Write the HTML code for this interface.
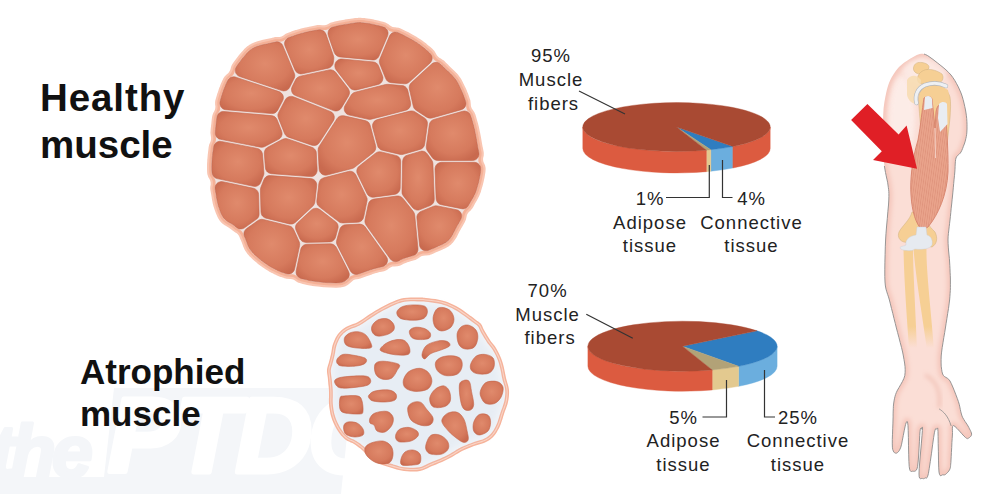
<!DOCTYPE html>
<html><head><meta charset="utf-8"><style>
html,body{margin:0;padding:0;background:#fff;width:1000px;height:500px;overflow:hidden;}
svg{display:block;position:absolute;left:0;top:0;}
</style></head><body>
<svg width="1000" height="500" viewBox="0 0 1000 500"><defs><radialGradient id="cg" cx="50%" cy="45%" r="60%"><stop offset="0" stop-color="#e08a6c"/><stop offset="0.7" stop-color="#d67a5d"/><stop offset="1" stop-color="#c96a4f"/></radialGradient><filter id="blur3" x="-10%" y="-10%" width="120%" height="120%"><feGaussianBlur stdDeviation="3"/></filter><filter id="blur2" x="-20%" y="-20%" width="140%" height="140%"><feGaussianBlur stdDeviation="2.2"/></filter><clipPath id="armclip"><path d="M924.0,54.0 L925.6,54.6 L927.3,55.4 L929.1,56.6 L931.0,58.0 L933.0,59.4 L935.0,61.0 L937.3,62.8 L940.1,65.0 L943.1,67.4 L946.0,69.9 L948.7,72.5 L951.0,75.0 L952.9,77.6 L954.8,80.5 L956.6,83.7 L958.3,86.9 L959.7,90.0 L961.0,93.0 L962.1,96.1 L963.1,99.5 L964.0,103.1 L964.8,106.7 L965.5,110.0 L966.0,113.0 L966.4,115.8 L966.7,118.6 L966.9,121.5 L967.0,124.3 L967.0,126.8 L967.0,129.0 L966.9,131.0 L966.8,132.9 L966.6,134.7 L966.3,136.5 L965.9,138.3 L965.5,140.0 L965.0,141.9 L964.3,144.0 L963.4,146.3 L962.6,148.5 L961.8,150.4 L961.0,152.0 L960.2,153.2 L959.3,154.1 L958.3,154.9 L957.4,155.7 L956.6,156.7 L956.0,158.0 L955.6,159.7 L955.4,161.7 L955.2,164.0 L955.1,166.5 L955.0,169.2 L954.8,172.0 L954.5,175.3 L954.1,179.2 L953.7,183.4 L953.3,187.8 L952.9,192.1 L952.5,196.0 L952.1,199.8 L951.7,204.0 L951.2,208.2 L950.8,212.4 L950.4,216.4 L950.0,220.0 L949.6,223.3 L949.2,226.7 L948.8,230.1 L948.4,233.5 L948.1,236.8 L948.0,240.0 L948.1,243.4 L948.3,247.1 L948.6,251.0 L949.0,254.9 L949.4,258.6 L949.6,262.0 L949.8,265.3 L950.0,268.7 L950.1,272.2 L950.3,275.7 L950.4,279.0 L950.4,282.0 L950.4,284.8 L950.4,287.7 L950.3,290.6 L950.1,293.5 L949.9,296.7 L949.6,300.0 L949.1,303.9 L948.5,308.5 L947.7,313.4 L946.9,318.5 L946.1,323.5 L945.4,328.0 L944.7,332.5 L943.8,337.5 L943.0,342.6 L942.2,347.5 L941.6,352.1 L941.2,356.0 L941.1,359.5 L941.1,362.9 L941.2,366.2 L941.6,369.2 L942.0,371.8 L942.6,374.0 L943.4,375.5 L944.6,376.6 L945.9,377.4 L947.3,378.2 L948.7,379.3 L950.0,381.0 L951.3,383.6 L952.8,387.0 L954.4,390.9 L955.9,394.8 L957.3,398.5 L958.4,401.6 L959.2,404.2 L959.8,406.9 L960.3,409.4 L960.8,411.8 L961.4,414.0 L962.0,416.0 L962.8,417.8 L963.9,419.6 L965.0,421.4 L966.1,423.0 L967.2,424.6 L968.0,426.0 L968.8,427.4 L969.5,428.9 L970.3,430.3 L970.9,431.7 L971.4,433.0 L971.6,434.0 L971.5,434.9 L971.2,435.7 L970.7,436.4 L970.1,437.0 L969.5,437.5 L969.0,437.8 L968.6,438.1 L968.2,438.4 L967.8,438.6 L967.3,438.6 L966.6,438.3 L965.6,437.6 L964.0,436.1 L961.9,433.8 L959.5,431.1 L957.1,428.5 L955.0,426.5 L953.6,425.6 L952.9,425.8 L952.5,426.7 L952.4,428.2 L952.4,430.2 L952.5,432.5 L952.4,435.0 L952.2,438.3 L951.9,442.6 L951.7,447.5 L951.4,452.4 L951.2,456.7 L951.0,460.0 L950.9,462.3 L950.7,464.1 L950.6,465.5 L950.5,466.7 L950.3,467.8 L950.0,468.8 L949.5,469.9 L948.9,470.9 L948.1,471.9 L947.4,472.7 L946.6,473.4 L946.0,474.0 L945.5,474.4 L944.9,474.7 L944.4,474.9 L943.9,474.9 L943.3,474.9 L942.8,474.8 L942.2,474.9 L941.5,475.4 L940.8,475.7 L940.1,475.5 L939.5,474.4 L939.0,472.0 L938.7,467.2 L938.5,460.1 L938.4,451.8 L938.2,443.5 L938.1,436.4 L938.0,431.6 L937.8,429.2 L937.7,428.1 L937.5,427.9 L937.3,428.3 L937.1,428.9 L936.8,429.2 L936.5,429.1 L936.2,428.7 L935.9,428.6 L935.5,428.9 L935.0,430.2 L934.4,432.8 L933.6,437.7 L932.6,444.8 L931.5,453.2 L930.3,461.5 L929.2,468.7 L928.4,473.6 L927.7,476.2 L927.1,477.6 L926.5,478.1 L926.0,478.0 L925.5,477.9 L925.0,478.0 L924.6,478.3 L924.1,478.6 L923.7,478.7 L923.3,478.7 L922.8,478.6 L922.4,478.4 L921.8,478.4 L921.1,478.6 L920.4,478.7 L919.7,478.2 L919.2,476.8 L919.0,474.0 L919.2,468.7 L919.8,461.0 L920.6,452.0 L921.4,443.1 L922.0,435.5 L922.4,430.4 L922.5,428.0 L922.3,427.1 L922.1,427.2 L921.7,427.9 L921.4,428.8 L921.2,429.2 L921.0,429.1 L920.8,428.7 L920.7,428.4 L920.5,428.5 L920.3,429.5 L920.0,431.6 L919.7,435.7 L919.4,441.8 L919.0,448.9 L918.6,456.0 L918.1,462.1 L917.6,466.4 L917.0,468.8 L916.2,470.3 L915.3,471.0 L914.4,471.3 L913.5,471.3 L912.8,471.2 L912.1,471.3 L911.5,471.5 L910.8,471.4 L910.2,470.7 L909.6,469.1 L909.2,466.4 L908.9,461.4 L908.7,454.2 L908.5,445.8 L908.4,437.5 L908.2,430.3 L908.0,425.6 L907.7,423.1 L907.4,421.8 L907.0,421.4 L906.6,421.9 L906.1,422.9 L905.6,424.4 L905.0,426.9 L904.2,430.8 L903.3,435.4 L902.4,440.1 L901.6,444.2 L900.8,447.2 L900.0,449.1 L899.2,450.7 L898.3,451.8 L897.5,452.6 L896.7,453.1 L896.0,453.2 L895.3,453.1 L894.6,452.8 L893.9,452.1 L893.3,451.0 L892.7,449.4 L892.4,447.2 L892.3,443.9 L892.3,439.4 L892.5,434.2 L892.7,428.8 L892.9,423.9 L893.0,420.0 L893.1,416.9 L893.1,413.9 L893.2,411.1 L893.3,408.5 L893.4,406.2 L893.6,404.0 L893.9,402.0 L894.2,400.1 L894.6,398.2 L895.0,396.4 L895.6,394.5 L896.4,392.4 L897.5,390.1 L899.1,387.4 L900.8,384.4 L902.5,381.4 L903.9,378.4 L904.8,375.6 L905.1,372.7 L905.2,369.7 L905.0,366.4 L904.6,363.0 L904.0,359.6 L903.4,356.0 L902.6,352.0 L901.5,347.4 L900.2,342.5 L898.9,337.4 L897.6,332.5 L896.4,328.0 L895.3,323.5 L894.0,318.5 L892.8,313.4 L891.5,308.5 L890.4,303.9 L889.4,300.0 L888.5,296.9 L887.6,294.3 L886.8,291.8 L886.0,289.1 L885.4,286.0 L885.0,282.0 L884.8,276.6 L884.8,269.8 L884.9,262.2 L885.1,254.4 L885.3,246.8 L885.6,240.0 L886.0,233.3 L886.6,226.0 L887.3,218.5 L887.9,211.3 L888.5,205.0 L888.8,200.0 L888.9,196.4 L888.9,193.6 L888.8,191.3 L888.6,189.3 L888.3,187.3 L888.0,185.0 L887.6,182.2 L886.9,179.1 L886.2,175.8 L885.5,172.5 L884.9,169.1 L884.4,166.0 L884.1,162.8 L883.8,159.3 L883.5,155.6 L883.3,151.8 L883.1,148.3 L883.0,145.0 L882.9,141.8 L882.9,138.4 L882.9,134.9 L882.9,131.5 L882.9,128.1 L883.0,125.0 L883.1,121.9 L883.1,118.5 L883.2,115.1 L883.4,111.7 L883.6,108.3 L884.0,105.0 L884.5,101.6 L885.2,97.8 L886.0,93.8 L886.9,89.8 L887.9,86.2 L889.0,83.0 L890.3,80.1 L891.7,77.2 L893.4,74.4 L895.2,71.7 L897.1,69.2 L899.0,67.0 L901.3,64.9 L904.0,62.8 L907.1,60.7 L910.1,58.8 L912.8,57.2 L915.0,56.0 L916.8,55.1 L918.3,54.4 L919.8,54.0 L921.2,53.8 L922.6,53.8Z"/></clipPath><pattern id="mstripe" width="2.2" height="10" patternUnits="userSpaceOnUse" patternTransform="rotate(8)"><rect width="2.2" height="10" fill="#e9a38b"/><rect width="0.7" height="10" fill="#df937c"/></pattern><linearGradient id="bonefade" gradientUnits="userSpaceOnUse" x1="0" y1="300" x2="0" y2="348"><stop offset="0" stop-color="#f6cf94"/><stop offset="0.55" stop-color="#f6cf94"/><stop offset="1" stop-color="#f6cf94" stop-opacity="0"/></linearGradient><linearGradient id="bfade" x1="0" y1="0" x2="0" y2="1"><stop offset="0" stop-color="#fbded6" stop-opacity="0"/><stop offset="1" stop-color="#fbded6" stop-opacity="1"/></linearGradient></defs><path d="M114,388 L352,388 L341,494 L0,494 L0,477 L104,477Z" fill="#f4f6f9"/>
<text font-family="Liberation Sans, sans-serif" font-weight="bold" font-style="italic" fill="#f4f6f9" stroke="#f4f6f9" stroke-width="3" stroke-linejoin="round" font-size="74" letter-spacing="-4" x="-10" y="477">the</text>
<text font-family="Liberation Sans, sans-serif" font-weight="bold" font-style="italic" fill="#ffffff" stroke="#ffffff" stroke-width="5" stroke-linejoin="round" font-size="106" letter-spacing="-4" x="108" y="472">PTDC</text>
<path d="M209.2,178.4 L210.1,180.2 L210.6,182.2 L210.7,184.2 L210.5,185.5 L210.5,185.5 L210.3,186.5 L210.2,188.8 L210.3,189.6 L210.5,190.8 L210.5,191.0 L210.6,191.3 L211.1,194.3 L211.2,194.4 L211.7,197.6 L211.7,197.7 L212.2,200.7 L212.2,200.8 L212.3,201.0 L212.3,201.1 L212.8,203.7 L212.9,204.0 L213.0,204.3 L213.0,204.5 L213.7,206.9 L213.8,207.1 L213.8,207.3 L213.9,207.6 L214.7,210.1 L214.8,210.2 L214.8,210.4 L214.9,210.5 L215.8,213.0 L215.9,213.2 L216.0,213.4 L216.1,213.7 L217.0,215.8 L217.1,216.1 L217.3,216.4 L217.4,216.8 L218.3,218.4 L218.5,218.8 L218.8,219.2 L219.1,219.7 L219.6,220.5 L220.2,221.2 L220.6,221.8 L221.2,222.4 L221.6,222.8 L222.2,223.4 L222.7,223.8 L223.3,224.3 L224.4,225.0 L224.7,225.2 L225.0,225.4 L225.3,225.6 L227.3,226.8 L229.3,228.0 L229.9,228.4 L231.4,229.5 L231.9,229.9 L233.3,231.0 L234.3,231.7 L235.3,232.4 L236.4,233.0 L237.8,234.2 L238.9,235.7 L239.7,237.4 L239.9,238.2 L240.5,239.4 L240.5,239.4 L240.9,240.3 L241.8,242.6 L241.9,242.8 L242.9,245.6 L242.9,245.8 L243.0,246.0 L243.1,246.2 L244.0,248.2 L244.2,248.8 L244.4,249.2 L244.7,249.7 L245.4,251.0 L245.8,251.6 L246.1,252.1 L246.5,252.6 L247.5,254.0 L247.7,254.3 L248.0,254.5 L248.2,254.8 L249.7,256.4 L249.9,256.7 L250.1,256.9 L250.3,257.1 L252.1,258.8 L252.2,258.9 L252.4,259.1 L252.5,259.2 L254.6,261.0 L254.7,261.1 L254.8,261.2 L254.9,261.3 L257.1,263.1 L257.2,263.2 L257.3,263.3 L257.4,263.4 L259.7,265.2 L259.9,265.3 L260.0,265.4 L260.1,265.5 L262.6,267.3 L262.7,267.4 L262.8,267.4 L263.0,267.5 L265.5,269.2 L265.6,269.3 L265.8,269.4 L265.9,269.5 L268.5,271.1 L268.7,271.2 L268.8,271.3 L269.0,271.4 L271.5,272.8 L271.7,272.9 L271.9,273.0 L272.1,273.1 L274.5,274.3 L274.7,274.4 L274.9,274.5 L275.1,274.6 L277.5,275.7 L277.7,275.7 L277.9,275.8 L278.1,275.9 L280.6,276.9 L280.8,277.0 L280.9,277.0 L281.1,277.1 L284.1,278.1 L284.2,278.2 L284.2,278.2 L284.3,278.2 L284.4,278.3 L285.7,278.6 L286.5,278.7 L289.8,278.9 L289.8,278.9 L290.5,278.9 L292.2,279.2 L293.8,279.8 L295.3,280.7 L295.9,281.2 L297.9,282.4 L298.6,282.7 L299.7,283.1 L301.3,283.5 L301.4,283.6 L301.6,283.6 L301.8,283.7 L306.2,284.8 L306.5,284.8 L306.7,284.9 L307.0,284.9 L311.5,285.8 L311.8,285.8 L312.0,285.9 L312.2,285.9 L317.4,286.6 L317.5,286.6 L317.7,286.6 L317.8,286.6 L323.6,287.2 L323.8,287.2 L323.9,287.2 L324.1,287.2 L329.8,287.6 L330.1,287.6 L330.3,287.6 L330.5,287.6 L335.5,287.7 L335.8,287.7 L336.2,287.7 L336.5,287.7 L339.8,287.5 L340.6,287.4 L341.2,287.3 L342.0,287.2 L342.9,287.0 L344.0,286.7 L344.9,286.4 L346.0,285.9 L346.7,285.6 L347.3,285.2 L348.0,284.7 L349.0,284.0 L349.1,283.9 L349.2,283.8 L350.2,283.0 L351.3,281.9 L351.3,281.9 L351.9,281.4 L353.3,280.3 L355.0,279.6 L356.8,279.2 L358.6,279.0 L359.3,278.8 L360.4,278.5 L362.4,277.7 L362.5,277.7 L367.2,276.0 L367.3,275.9 L371.9,274.4 L372.1,274.3 L376.0,273.1 L376.5,273.0 L379.6,272.1 L380.2,272.0 L382.9,271.5 L384.0,271.2 L384.7,270.9 L386.9,269.9 L387.3,269.7 L388.7,268.5 L390.4,267.4 L392.4,266.6 L394.4,266.4 L397.0,266.3 L397.4,266.3 L399.6,265.7 L400.3,265.4 L401.3,264.9 L402.4,264.4 L403.0,264.0 L404.9,263.2 L405.7,262.9 L408.0,262.0 L408.5,261.9 L411.3,261.1 L411.5,261.0 L414.1,260.3 L415.4,259.9 L416.2,259.6 L418.4,258.2 L419.1,257.7 L420.4,256.8 L421.9,256.1 L423.4,255.7 L425.1,255.6 L426.0,255.6 L428.5,255.3 L429.3,255.2 L430.4,254.8 L430.9,254.6 L431.0,254.6 L431.1,254.5 L431.2,254.5 L434.1,253.3 L434.2,253.2 L434.3,253.2 L434.4,253.1 L437.3,251.8 L437.4,251.8 L440.3,250.4 L440.4,250.4 L443.2,249.2 L443.4,249.1 L443.5,249.0 L443.7,248.9 L445.9,247.9 L446.3,247.7 L446.6,247.5 L447.0,247.3 L448.5,246.4 L449.1,246.0 L449.6,245.6 L450.1,245.2 L451.1,244.4 L451.7,243.8 L452.2,243.3 L452.8,242.7 L453.7,241.6 L454.1,241.1 L454.4,240.6 L454.8,240.1 L456.0,238.2 L456.2,237.9 L456.3,237.7 L456.5,237.4 L458.0,234.6 L458.0,234.5 L458.0,234.4 L458.1,234.3 L459.7,231.1 L459.8,230.9 L461.7,227.5 L461.8,227.4 L463.9,223.7 L464.9,221.9 L465.4,220.8 L465.8,220.0 L466.4,217.6 L466.4,217.4 L466.8,215.6 L467.4,214.0 L468.4,212.6 L469.7,211.3 L470.2,210.9 L471.8,209.1 L472.3,208.5 L472.9,207.5 L472.9,207.5 L473.0,207.4 L474.7,204.2 L474.8,204.0 L476.4,201.3 L476.5,201.2 L476.5,201.1 L476.6,201.0 L477.9,198.5 L478.1,198.3 L478.2,198.0 L478.3,197.8 L479.4,195.5 L479.6,195.1 L479.7,194.8 L479.8,194.4 L480.9,191.7 L481.0,191.4 L481.0,191.1 L481.1,190.8 L482.2,187.1 L482.3,187.0 L482.3,186.8 L482.4,186.6 L483.5,182.3 L483.5,182.1 L483.6,181.9 L483.6,181.7 L484.6,177.2 L484.6,177.0 L484.7,176.7 L484.7,176.5 L485.4,172.3 L485.4,171.9 L485.5,171.6 L485.5,171.3 L485.6,170.1 L485.6,168.8 L485.6,168.0 L485.1,165.5 L484.9,165.0 L484.1,163.3 L483.4,161.7 L483.1,160.0 L483.1,158.3 L483.5,156.6 L483.7,155.9 L483.7,155.5 L483.8,153.1 L483.7,152.3 L483.5,151.1 L483.5,150.9 L482.7,147.0 L482.6,146.8 L481.8,142.3 L481.0,137.6 L481.0,137.5 L480.1,132.8 L480.1,132.7 L480.1,132.6 L480.0,132.5 L479.1,127.9 L479.0,127.7 L479.0,127.6 L479.0,127.5 L477.9,123.1 L477.8,122.9 L477.8,122.7 L477.7,122.5 L476.4,118.0 L476.4,117.8 L476.3,117.7 L476.3,117.6 L475.3,114.3 L474.8,113.2 L474.5,112.5 L473.2,110.5 L472.9,110.1 L471.9,108.7 L471.2,107.1 L470.8,105.3 L470.8,104.5 L470.8,104.5 L470.5,101.4 L470.4,100.6 L470.0,99.3 L469.8,98.7 L468.7,95.6 L468.7,95.5 L467.8,93.1 L467.7,93.0 L467.7,92.9 L467.7,92.9 L466.9,91.0 L466.9,90.9 L466.8,90.8 L466.8,90.6 L466.1,89.0 L466.0,88.9 L466.0,88.8 L465.9,88.6 L465.0,86.7 L463.9,84.4 L463.9,84.4 L462.9,82.4 L462.9,82.2 L462.8,82.1 L462.7,81.9 L461.8,80.3 L461.7,80.1 L461.6,79.8 L461.4,79.6 L460.5,78.1 L460.3,77.8 L460.1,77.5 L459.9,77.2 L458.8,75.7 L458.6,75.4 L458.3,75.1 L458.1,74.8 L456.6,73.1 L456.4,72.9 L456.2,72.7 L456.0,72.5 L454.0,70.5 L453.9,70.4 L453.8,70.3 L453.7,70.2 L451.3,67.9 L448.5,65.2 L448.4,65.1 L445.7,62.5 L445.5,62.3 L444.4,61.1 L443.5,60.3 L442.9,59.9 L440.8,58.6 L439.3,57.8 L437.9,56.6 L436.8,55.2 L436.0,53.7 L434.7,51.5 L434.2,50.8 L433.4,49.9 L433.0,49.5 L432.9,49.4 L432.8,49.3 L432.6,49.1 L429.8,46.6 L429.6,46.4 L429.5,46.3 L429.3,46.2 L426.6,43.9 L426.5,43.8 L426.4,43.7 L426.3,43.6 L423.7,41.7 L423.6,41.5 L423.4,41.4 L423.2,41.3 L420.7,39.5 L420.5,39.4 L420.4,39.3 L420.2,39.2 L417.4,37.4 L417.2,37.3 L417.1,37.2 L416.9,37.1 L413.6,35.2 L413.5,35.1 L413.4,35.0 L413.2,35.0 L409.3,32.8 L409.2,32.7 L409.1,32.7 L409.0,32.6 L404.5,30.4 L404.4,30.3 L404.3,30.3 L404.2,30.2 L400.6,28.5 L399.4,28.0 L398.7,27.8 L396.2,27.4 L395.1,27.3 L395.1,27.3 L394.4,27.3 L392.6,26.9 L390.8,26.1 L389.3,25.0 L388.9,24.6 L386.7,23.2 L385.9,22.8 L384.7,22.3 L384.6,22.3 L384.4,22.2 L384.2,22.2 L384.0,22.1 L379.5,20.9 L379.3,20.8 L379.1,20.8 L379.0,20.8 L374.5,19.7 L374.3,19.7 L374.1,19.7 L373.9,19.6 L369.7,18.8 L369.5,18.8 L369.3,18.8 L369.1,18.7 L365.5,18.2 L365.2,18.2 L365.0,18.1 L364.7,18.1 L362.0,17.9 L361.6,17.9 L361.3,17.8 L360.9,17.8 L358.9,17.8 L358.6,17.8 L358.2,17.8 L357.8,17.9 L355.9,18.0 L355.6,18.0 L355.4,18.1 L355.1,18.1 L352.6,18.4 L352.4,18.4 L349.0,18.9 L348.9,19.0 L348.8,19.0 L348.7,19.0 L344.8,19.6 L344.6,19.7 L344.5,19.7 L344.4,19.7 L339.9,20.6 L339.8,20.6 L339.8,20.6 L339.7,20.6 L334.8,21.6 L332.4,22.2 L331.2,22.5 L330.4,22.8 L327.8,24.2 L326.1,24.9 L324.3,25.3 L322.4,25.3 L319.6,25.0 L318.7,25.0 L317.4,25.1 L315.3,25.5 L310.6,26.4 L310.5,26.4 L310.4,26.4 L310.3,26.4 L305.9,27.4 L305.7,27.4 L305.5,27.4 L305.4,27.5 L301.1,28.5 L300.9,28.6 L300.7,28.6 L300.5,28.7 L296.2,29.9 L296.0,30.0 L295.9,30.0 L295.7,30.1 L291.2,31.6 L291.2,31.6 L291.1,31.7 L291.0,31.7 L287.6,32.9 L286.4,33.4 L285.7,33.8 L283.4,35.4 L281.6,36.4 L279.7,37.0 L277.8,37.1 L275.8,37.1 L275.0,37.1 L273.7,37.4 L272.1,37.8 L271.7,37.9 L266.7,39.0 L261.9,40.1 L261.7,40.1 L261.5,40.2 L261.3,40.2 L257.5,41.2 L257.0,41.4 L256.6,41.5 L256.2,41.7 L253.5,42.7 L252.9,42.9 L252.4,43.2 L251.8,43.5 L250.1,44.4 L249.5,44.7 L249.1,45.0 L248.6,45.4 L247.3,46.3 L246.8,46.7 L246.4,47.0 L246.0,47.4 L244.7,48.6 L244.4,48.9 L244.2,49.1 L243.9,49.4 L242.2,51.4 L242.1,51.5 L242.0,51.6 L241.9,51.7 L239.7,54.3 L239.6,54.4 L239.5,54.5 L239.4,54.6 L236.8,57.9 L236.7,58.1 L236.6,58.2 L236.4,58.4 L233.6,62.3 L233.5,62.4 L233.4,62.5 L233.4,62.6 L232.6,63.7 L232.0,64.8 L231.6,65.5 L230.8,67.8 L230.7,68.6 L230.2,70.1 L229.4,71.6 L228.4,72.9 L227.2,74.0 L226.6,74.5 L224.8,76.3 L224.3,77.0 L223.6,78.1 L223.4,78.3 L223.3,78.6 L223.2,78.8 L223.1,79.0 L222.0,81.2 L221.9,81.5 L221.8,81.7 L221.7,81.9 L220.8,84.0 L220.7,84.2 L220.6,84.3 L220.6,84.5 L219.7,86.9 L219.7,86.9 L219.6,87.0 L219.6,87.1 L218.6,89.8 L218.6,89.9 L218.6,89.9 L218.6,90.0 L217.6,93.0 L217.5,93.1 L217.5,93.2 L217.4,93.3 L216.5,96.4 L216.5,96.5 L216.4,96.6 L216.4,96.7 L215.5,99.8 L215.5,100.0 L215.4,100.0 L215.4,100.1 L215.2,101.3 L215.1,102.0 L215.1,104.3 L215.2,105.2 L215.4,106.3 L215.3,107.9 L215.0,109.5 L214.4,111.0 L214.0,111.7 L214.0,111.7 L213.5,112.6 L212.6,114.8 L212.4,115.5 L212.1,116.7 L211.7,119.7 L211.4,122.8 L211.4,122.9 L211.0,125.9 L211.0,126.0 L211.0,126.1 L211.0,126.2 L210.7,129.1 L210.7,129.1 L210.5,131.7 L210.4,132.8 L210.5,133.6 L210.9,136.4 L210.9,136.4 L211.1,137.8 L211.0,139.9 L210.4,141.9 L209.2,144.6 L209.0,145.4 L208.8,146.6 L208.7,146.8 L208.2,150.9 L208.2,151.0 L208.2,151.1 L207.7,154.9 L207.7,155.0 L207.7,155.2 L207.7,155.3 L207.4,158.7 L207.4,158.9 L207.3,159.0 L207.3,159.1 L207.2,162.3 L207.1,162.4 L207.1,162.5 L207.1,162.6 L207.0,165.5 L207.0,165.6 L207.0,165.7 L207.0,165.9 L207.0,168.5 L207.0,168.7 L207.0,168.9 L207.0,169.1 L207.1,171.6 L207.1,171.8 L207.1,172.0 L207.1,172.2 L207.2,172.8 L207.3,174.0 L207.5,174.7 L208.3,177.0 L208.5,177.4Z" fill="#f9c5b1"/>
<path d="M211.0,177.2 L211.1,177.4 L212.1,179.2 L212.2,179.7 L212.8,181.6 L212.8,182.1 L212.9,184.1 L212.9,184.6 L212.7,185.8 L212.7,185.8 L212.5,186.7 L212.4,188.8 L212.5,189.3 L212.6,190.4 L212.7,190.5 L212.7,190.5 L212.7,190.8 L212.7,190.9 L213.3,193.9 L213.3,193.9 L213.3,194.1 L213.3,194.1 L213.8,197.2 L213.9,197.3 L214.4,200.3 L214.4,200.4 L214.4,200.6 L214.5,200.7 L215.0,203.2 L215.0,203.5 L215.1,203.7 L215.2,204.0 L215.8,206.3 L215.9,206.5 L215.9,206.7 L216.0,206.9 L216.8,209.4 L216.9,209.5 L216.9,209.6 L216.9,209.8 L217.8,212.2 L217.9,212.4 L218.0,212.6 L218.1,212.8 L219.0,214.9 L219.1,215.2 L219.2,215.5 L219.4,215.8 L220.2,217.3 L220.4,217.7 L220.7,218.1 L220.9,218.5 L221.4,219.2 L221.9,219.8 L222.3,220.3 L222.8,220.9 L223.2,221.3 L223.7,221.7 L224.1,222.1 L224.7,222.5 L225.6,223.2 L225.9,223.4 L226.2,223.6 L226.4,223.8 L228.4,224.9 L230.4,226.1 L230.5,226.2 L231.1,226.6 L231.2,226.6 L232.7,227.7 L232.8,227.7 L233.3,228.1 L233.3,228.2 L234.6,229.2 L235.5,229.9 L236.5,230.5 L237.5,231.1 L237.9,231.4 L239.3,232.6 L239.6,232.9 L240.7,234.4 L240.9,234.8 L241.7,236.5 L241.8,236.7 L242.0,237.4 L242.5,238.5 L242.5,238.5 L242.9,239.4 L243.0,239.5 L243.8,241.8 L243.9,241.8 L243.9,242.0 L243.9,242.1 L244.9,244.8 L245.0,245.0 L245.1,245.2 L245.1,245.3 L246.0,247.4 L246.2,247.8 L246.4,248.2 L246.6,248.7 L247.3,249.9 L247.6,250.4 L247.9,250.8 L248.2,251.3 L249.2,252.6 L249.4,252.9 L249.6,253.1 L249.9,253.4 L251.3,255.0 L251.5,255.2 L251.6,255.3 L251.8,255.5 L253.6,257.2 L253.7,257.3 L253.8,257.5 L254.0,257.6 L256.0,259.4 L256.1,259.4 L256.2,259.5 L256.3,259.6 L258.5,261.4 L258.6,261.5 L258.7,261.6 L258.8,261.6 L261.1,263.5 L261.2,263.6 L261.3,263.6 L261.4,263.7 L263.8,265.5 L264.0,265.6 L264.1,265.6 L264.2,265.7 L266.7,267.4 L266.8,267.5 L267.0,267.6 L267.1,267.7 L269.6,269.2 L269.8,269.3 L269.9,269.4 L270.1,269.5 L272.6,270.9 L272.8,271.0 L272.9,271.0 L273.1,271.1 L275.5,272.3 L275.7,272.4 L275.8,272.5 L276.0,272.6 L278.4,273.6 L278.6,273.7 L278.7,273.8 L278.9,273.8 L281.4,274.9 L281.6,274.9 L281.7,274.9 L281.8,275.0 L284.8,276.0 L284.9,276.1 L285.0,276.1 L285.0,276.1 L285.1,276.1 L286.2,276.4 L286.8,276.5 L289.9,276.7 L290.5,276.7 L290.9,276.7 L292.6,277.0 L293.0,277.1 L294.6,277.8 L295.0,277.9 L296.4,278.9 L296.6,279.0 L297.1,279.4 L298.9,280.4 L299.4,280.6 L300.4,281.0 L301.9,281.4 L302.0,281.5 L302.2,281.5 L302.3,281.5 L306.8,282.6 L307.0,282.7 L307.2,282.7 L307.4,282.8 L311.9,283.6 L312.1,283.6 L312.3,283.7 L312.5,283.7 L317.7,284.4 L317.8,284.4 L317.9,284.4 L318.1,284.4 L323.8,285.0 L324.0,285.0 L324.1,285.0 L324.2,285.0 L330.0,285.4 L330.2,285.4 L330.3,285.4 L330.5,285.4 L335.5,285.5 L335.8,285.5 L336.1,285.5 L336.4,285.5 L339.7,285.3 L340.3,285.2 L340.9,285.2 L341.5,285.1 L342.4,284.9 L343.3,284.6 L344.2,284.3 L345.0,284.0 L345.6,283.6 L346.2,283.3 L346.8,282.9 L347.7,282.2 L347.7,282.2 L347.8,282.2 L347.8,282.2 L347.8,282.1 L348.7,281.4 L349.7,280.4 L350.3,279.8 L350.6,279.6 L352.1,278.5 L352.5,278.3 L354.1,277.6 L354.5,277.4 L356.3,277.0 L356.6,277.0 L358.2,276.8 L358.8,276.7 L359.7,276.4 L361.6,275.7 L361.6,275.7 L361.7,275.6 L361.8,275.6 L366.5,273.9 L366.5,273.9 L366.6,273.9 L366.6,273.9 L371.2,272.3 L371.2,272.3 L371.4,272.2 L371.4,272.2 L375.3,271.0 L375.4,271.0 L375.9,270.8 L375.9,270.8 L379.1,270.0 L379.1,270.0 L379.7,269.9 L379.7,269.9 L382.4,269.3 L383.4,269.1 L383.9,268.9 L385.8,268.0 L386.0,267.9 L387.3,266.8 L387.5,266.7 L389.2,265.5 L389.7,265.3 L391.6,264.6 L392.1,264.5 L394.1,264.2 L394.4,264.2 L396.8,264.1 L397.0,264.1 L398.9,263.6 L399.4,263.4 L400.3,263.0 L401.3,262.4 L401.4,262.4 L402.0,262.1 L402.1,262.0 L404.0,261.2 L404.1,261.1 L404.9,260.8 L405.0,260.8 L407.3,260.0 L407.4,260.0 L407.8,259.8 L407.9,259.8 L410.7,259.0 L410.7,259.0 L410.9,258.9 L410.9,258.9 L413.5,258.2 L414.6,257.8 L415.2,257.6 L417.1,256.4 L417.7,256.0 L417.8,255.9 L419.2,254.9 L419.5,254.8 L421.0,254.1 L421.3,254.0 L422.9,253.6 L423.3,253.5 L424.9,253.4 L425.1,253.4 L425.9,253.4 L428.1,253.2 L428.7,253.0 L429.7,252.7 L430.1,252.6 L430.2,252.5 L430.2,252.5 L430.3,252.4 L433.2,251.2 L433.3,251.2 L433.4,251.1 L433.5,251.1 L436.4,249.8 L436.4,249.8 L436.5,249.8 L436.5,249.8 L439.4,248.4 L439.4,248.4 L439.5,248.4 L439.5,248.4 L442.3,247.2 L442.5,247.1 L442.6,247.0 L442.8,247.0 L444.9,245.9 L445.2,245.7 L445.6,245.6 L445.9,245.4 L447.3,244.5 L447.8,244.2 L448.3,243.8 L448.7,243.5 L449.6,242.7 L450.2,242.2 L450.6,241.8 L451.1,241.2 L452.0,240.2 L452.3,239.8 L452.6,239.4 L452.9,238.9 L454.1,237.1 L454.3,236.8 L454.4,236.6 L454.5,236.3 L456.0,233.6 L456.1,233.5 L456.1,233.4 L456.1,233.3 L457.8,230.1 L457.8,230.1 L457.9,229.9 L457.9,229.9 L459.7,226.5 L459.7,226.5 L459.9,226.3 L459.9,226.3 L462.0,222.6 L462.9,220.9 L463.4,219.9 L463.7,219.3 L464.2,217.2 L464.2,217.1 L464.2,216.9 L464.6,215.2 L464.7,214.8 L465.4,213.2 L465.6,212.8 L466.6,211.3 L466.9,211.0 L468.1,209.8 L468.3,209.6 L468.7,209.3 L470.1,207.7 L470.4,207.3 L471.0,206.4 L471.0,206.3 L471.0,206.3 L472.8,203.1 L472.8,203.1 L472.9,203.0 L472.9,202.9 L474.5,200.2 L474.6,200.1 L474.6,200.0 L474.7,199.9 L476.0,197.5 L476.1,197.3 L476.2,197.1 L476.3,196.8 L477.4,194.6 L477.5,194.3 L477.7,194.0 L477.8,193.6 L478.8,190.9 L478.9,190.7 L478.9,190.5 L479.0,190.2 L480.1,186.5 L480.2,186.4 L480.2,186.2 L480.2,186.1 L481.4,181.7 L481.4,181.6 L481.4,181.4 L481.5,181.2 L482.4,176.8 L482.5,176.5 L482.5,176.4 L482.5,176.1 L483.2,171.9 L483.2,171.6 L483.3,171.4 L483.3,171.1 L483.4,170.0 L483.4,168.9 L483.4,168.3 L482.9,166.0 L482.9,165.8 L482.1,164.3 L482.0,164.1 L481.4,162.5 L481.3,162.1 L481.0,160.4 L480.9,160.0 L480.9,158.3 L481.0,157.9 L481.3,156.2 L481.4,156.0 L481.5,155.5 L481.5,155.3 L481.6,153.1 L481.5,152.6 L481.4,151.5 L481.3,151.4 L481.3,151.4 L480.5,147.5 L480.5,147.4 L480.5,147.2 L480.5,147.1 L479.7,142.7 L478.8,138.0 L478.8,137.9 L477.9,133.2 L477.9,133.1 L477.9,133.0 L477.9,132.9 L476.9,128.4 L476.9,128.2 L476.9,128.1 L476.8,128.0 L475.8,123.6 L475.7,123.4 L475.7,123.3 L475.6,123.1 L474.3,118.6 L474.3,118.5 L474.2,118.4 L474.2,118.2 L473.2,115.1 L472.8,114.1 L472.6,113.6 L471.4,111.8 L471.2,111.5 L471.1,111.3 L470.1,109.9 L469.9,109.5 L469.2,107.9 L469.0,107.5 L468.6,105.8 L468.6,105.4 L468.6,104.7 L468.6,104.7 L468.4,101.7 L468.2,101.1 L467.9,100.0 L467.7,99.5 L466.6,96.4 L466.6,96.3 L465.7,93.9 L465.7,93.8 L465.7,93.7 L465.6,93.7 L464.9,91.9 L464.9,91.7 L464.8,91.6 L464.8,91.5 L464.1,89.9 L464.0,89.8 L464.0,89.7 L463.9,89.6 L463.0,87.6 L461.9,85.4 L461.9,85.3 L461.0,83.4 L460.9,83.2 L460.8,83.1 L460.7,82.9 L459.9,81.4 L459.8,81.1 L459.7,80.9 L459.5,80.7 L458.6,79.3 L458.5,79.0 L458.3,78.8 L458.1,78.5 L457.0,77.0 L456.8,76.8 L456.6,76.5 L456.4,76.3 L454.9,74.6 L454.8,74.4 L454.6,74.2 L454.5,74.1 L452.5,72.0 L452.4,72.0 L452.3,71.9 L452.2,71.8 L449.8,69.4 L447.0,66.8 L447.0,66.8 L446.9,66.7 L446.9,66.7 L444.2,64.1 L444.2,64.1 L444.0,63.9 L444.0,63.9 L442.8,62.7 L442.1,62.0 L441.6,61.7 L439.7,60.5 L438.2,59.7 L437.9,59.4 L436.5,58.3 L436.2,58.0 L435.1,56.6 L434.9,56.3 L434.1,54.7 L432.9,52.7 L432.5,52.2 L431.8,51.4 L431.5,51.1 L431.4,51.0 L431.3,50.9 L431.1,50.7 L428.3,48.2 L428.2,48.1 L428.1,48.0 L427.9,47.9 L425.2,45.6 L425.1,45.5 L425.0,45.5 L424.9,45.4 L422.4,43.4 L422.2,43.3 L422.1,43.2 L422.0,43.1 L419.4,41.3 L419.3,41.2 L419.2,41.1 L419.0,41.0 L416.2,39.2 L416.1,39.2 L415.9,39.1 L415.8,39.0 L412.5,37.1 L412.4,37.0 L412.3,37.0 L412.2,36.9 L408.2,34.7 L408.1,34.7 L408.0,34.6 L407.9,34.6 L403.5,32.3 L403.4,32.3 L403.3,32.2 L403.2,32.2 L399.7,30.5 L398.7,30.1 L398.1,29.9 L396.0,29.6 L395.0,29.5 L394.7,29.5 L394.4,29.5 L393.9,29.4 L392.1,29.0 L391.7,28.9 L389.9,28.1 L389.5,27.9 L388.0,26.8 L387.8,26.7 L387.5,26.4 L385.6,25.1 L385.1,24.8 L384.0,24.4 L384.0,24.4 L383.8,24.3 L383.6,24.3 L383.4,24.2 L378.9,23.0 L378.8,23.0 L378.6,22.9 L378.5,22.9 L374.0,21.9 L373.8,21.8 L373.7,21.8 L373.5,21.8 L369.3,21.0 L369.1,21.0 L369.0,20.9 L368.8,20.9 L365.2,20.4 L364.9,20.4 L364.7,20.3 L364.5,20.3 L361.8,20.1 L361.5,20.1 L361.2,20.0 L360.9,20.0 L359.0,20.0 L358.6,20.0 L358.3,20.0 L358.0,20.1 L356.1,20.2 L355.8,20.2 L355.6,20.2 L355.4,20.3 L352.9,20.6 L352.8,20.6 L349.3,21.1 L349.2,21.1 L349.2,21.1 L349.1,21.2 L345.1,21.8 L345.0,21.8 L344.9,21.8 L344.8,21.9 L340.3,22.7 L340.3,22.7 L340.2,22.8 L340.2,22.8 L335.3,23.8 L333.0,24.3 L331.8,24.6 L331.3,24.8 L328.8,26.2 L328.6,26.3 L326.9,27.0 L326.5,27.1 L324.7,27.4 L324.3,27.5 L322.4,27.5 L322.2,27.5 L319.5,27.2 L318.9,27.2 L317.7,27.3 L315.7,27.7 L311.0,28.6 L310.9,28.6 L310.8,28.6 L310.7,28.6 L306.3,29.5 L306.2,29.5 L306.0,29.6 L305.9,29.6 L301.6,30.6 L301.4,30.7 L301.3,30.7 L301.1,30.8 L296.8,32.0 L296.7,32.1 L296.5,32.1 L296.4,32.2 L291.9,33.7 L291.9,33.7 L291.8,33.7 L291.8,33.8 L288.4,35.0 L287.4,35.4 L286.8,35.7 L284.6,37.2 L284.4,37.4 L282.7,38.3 L282.3,38.5 L280.4,39.1 L279.9,39.2 L277.9,39.3 L277.7,39.3 L275.9,39.3 L275.3,39.3 L274.1,39.5 L272.6,39.9 L272.6,40.0 L272.2,40.0 L272.2,40.0 L267.2,41.2 L262.4,42.2 L262.2,42.3 L262.0,42.3 L261.9,42.4 L258.1,43.4 L257.7,43.5 L257.3,43.6 L256.9,43.7 L254.3,44.7 L253.8,45.0 L253.4,45.2 L252.9,45.4 L251.2,46.4 L250.7,46.6 L250.3,46.9 L249.8,47.2 L248.6,48.1 L248.2,48.4 L247.9,48.7 L247.5,49.0 L246.2,50.2 L246.0,50.4 L245.8,50.7 L245.5,50.9 L243.8,52.8 L243.7,52.9 L243.7,53.0 L243.6,53.1 L241.4,55.7 L241.3,55.8 L241.2,55.9 L241.1,56.0 L238.5,59.3 L238.4,59.4 L238.3,59.5 L238.2,59.7 L235.4,63.6 L235.3,63.7 L235.2,63.8 L235.2,63.9 L234.5,64.9 L233.9,65.8 L233.7,66.3 L232.9,68.4 L232.8,69.0 L232.8,69.2 L232.3,70.8 L232.1,71.1 L231.4,72.6 L231.2,73.0 L230.2,74.3 L229.9,74.6 L228.7,75.7 L228.5,75.8 L228.1,76.1 L226.4,77.7 L226.1,78.2 L225.5,79.2 L225.3,79.4 L225.2,79.6 L225.1,79.8 L225.0,80.0 L224.0,82.2 L223.9,82.4 L223.8,82.6 L223.7,82.8 L222.8,84.9 L222.7,85.0 L222.7,85.1 L222.6,85.3 L221.7,87.6 L221.7,87.7 L221.7,87.8 L221.7,87.8 L220.7,90.6 L220.7,90.6 L220.7,90.7 L220.6,90.7 L219.6,93.7 L219.6,93.8 L219.6,93.9 L219.5,94.0 L218.6,97.0 L218.6,97.1 L218.5,97.2 L218.5,97.3 L217.6,100.4 L217.6,100.5 L217.6,100.6 L217.6,100.6 L217.4,101.6 L217.3,102.2 L217.3,104.2 L217.4,104.9 L217.5,105.9 L217.6,106.3 L217.5,108.0 L217.5,108.3 L217.1,109.9 L217.0,110.3 L216.4,111.8 L216.3,112.2 L215.9,112.8 L215.9,112.8 L215.4,113.6 L214.6,115.5 L214.5,116.0 L214.3,117.0 L213.9,120.0 L213.5,123.1 L213.5,123.2 L213.2,126.2 L213.2,126.2 L213.2,126.3 L213.2,126.4 L212.9,129.3 L212.9,129.3 L212.7,131.8 L212.6,132.8 L212.6,133.4 L213.1,136.0 L213.3,137.5 L213.3,137.9 L213.2,140.0 L213.1,140.5 L212.5,142.5 L212.4,142.8 L211.3,145.3 L211.2,145.9 L210.9,147.0 L210.9,147.1 L210.4,151.2 L210.4,151.2 L210.4,151.4 L209.9,155.2 L209.9,155.3 L209.9,155.4 L209.9,155.5 L209.6,158.9 L209.6,159.0 L209.5,159.2 L209.5,159.3 L209.4,162.4 L209.3,162.5 L209.3,162.6 L209.3,162.7 L209.2,165.5 L209.2,165.7 L209.2,165.8 L209.2,165.9 L209.2,168.5 L209.2,168.7 L209.2,168.8 L209.2,169.0 L209.3,171.5 L209.3,171.7 L209.3,171.9 L209.3,172.1 L209.4,172.5 L209.5,173.6 L209.6,174.2 L210.3,176.2 L210.4,176.3Z" fill="#f5b197"/>
<path d="M214.6,143.5 L214.6,143.5 L214.0,144.5 L213.5,145.7 L213.3,146.6 L213.1,147.2 L213.1,147.4 L212.6,151.5 L212.5,151.6 L212.1,155.4 L212.1,155.5 L212.1,155.6 L212.1,155.7 L211.8,159.1 L211.7,159.2 L211.7,159.3 L211.7,159.4 L211.5,162.5 L211.5,162.6 L211.5,162.7 L211.5,162.7 L211.4,165.6 L211.4,165.7 L211.4,165.8 L211.4,165.9 L211.4,168.6 L211.4,168.7 L211.4,168.8 L211.4,168.9 L211.5,171.5 L211.5,171.6 L211.5,171.8 L211.5,171.9 L211.6,172.5 L211.6,173.1 L211.8,173.9 L212.2,175.0 L212.5,175.5 L213.1,176.5 L213.5,176.9 L214.4,178.2 L215.1,179.7 L215.5,181.3 L215.6,182.9 L215.4,184.5 L215.2,185.1 L215.2,185.1 L214.7,186.7 L214.7,187.3 L214.6,188.4 L214.7,189.2 L214.8,189.8 L214.9,190.2 L214.9,190.4 L215.5,193.5 L215.5,193.7 L216.0,196.9 L216.0,196.9 L216.6,199.9 L216.6,200.0 L216.6,200.2 L216.6,200.2 L217.1,202.8 L217.2,203.0 L217.2,203.2 L217.3,203.4 L217.9,205.8 L218.0,205.9 L218.0,206.1 L218.1,206.2 L218.9,208.7 L218.9,208.8 L219.0,208.9 L219.0,209.0 L219.9,211.5 L220.0,211.6 L220.0,211.8 L220.1,211.9 L221.0,214.1 L221.1,214.2 L221.2,214.6 L221.3,214.7 L222.2,216.3 L222.3,216.5 L222.6,217.0 L222.7,217.2 L223.3,218.0 L223.5,218.4 L224.0,219.0 L224.3,219.3 L224.8,219.7 L225.0,220.0 L225.6,220.5 L225.9,220.7 L226.9,221.4 L227.1,221.6 L227.4,221.7 L227.6,221.8 L229.5,223.0 L231.7,224.3 L232.3,224.7 L234.1,226.0 L234.6,226.4 L236.1,227.6 L236.6,228.0 L237.3,228.4 L238.8,229.1 L240.2,229.9 L241.5,231.0 L242.5,232.3 L243.2,233.7 L243.7,235.3 L243.8,235.8 L244.1,236.7 L244.4,237.3 L244.5,237.6 L244.9,238.5 L245.9,241.1 L246.0,241.3 L247.0,244.1 L247.0,244.2 L247.1,244.4 L247.2,244.5 L248.0,246.6 L248.1,246.8 L248.4,247.3 L248.5,247.5 L249.3,248.9 L249.4,249.2 L249.8,249.7 L250.0,249.9 L251.0,251.3 L251.1,251.4 L251.3,251.7 L251.5,251.9 L252.9,253.5 L253.0,253.6 L253.2,253.8 L253.3,253.9 L255.1,255.6 L255.2,255.7 L255.3,255.8 L255.4,255.9 L257.5,257.7 L257.5,257.8 L257.6,257.9 L257.7,257.9 L259.9,259.8 L260.0,259.8 L260.1,259.9 L260.1,259.9 L262.5,261.7 L262.5,261.8 L262.7,261.9 L262.7,261.9 L265.2,263.7 L265.2,263.7 L265.4,263.8 L265.4,263.9 L267.9,265.6 L268.0,265.6 L268.2,265.7 L268.2,265.8 L270.8,267.3 L270.9,267.4 L271.0,267.5 L271.1,267.5 L273.7,269.0 L273.8,269.0 L273.9,269.1 L274.0,269.2 L276.5,270.4 L276.6,270.4 L276.8,270.5 L276.9,270.6 L279.3,271.6 L279.4,271.7 L279.6,271.7 L279.7,271.8 L282.3,272.8 L282.3,272.8 L282.5,272.9 L282.6,272.9 L285.5,274.0 L285.6,274.0 L285.7,274.0 L285.7,274.0 L285.8,274.1 L286.5,274.2 L287.4,274.4 L288.7,274.5 L289.3,274.4 L291.0,274.2 L292.8,274.3 L294.5,274.7 L296.0,275.5 L297.4,276.6 L298.2,277.4 L298.6,277.7 L299.6,278.3 L300.4,278.6 L300.9,278.8 L302.5,279.3 L302.6,279.3 L302.7,279.4 L302.8,279.4 L307.3,280.5 L307.4,280.5 L307.7,280.6 L307.8,280.6 L312.3,281.4 L312.4,281.5 L312.7,281.5 L312.8,281.5 L318.0,282.2 L318.0,282.2 L318.2,282.2 L318.3,282.2 L324.1,282.8 L324.1,282.8 L324.3,282.8 L324.4,282.8 L330.1,283.2 L330.2,283.2 L330.4,283.2 L330.5,283.2 L335.6,283.3 L335.8,283.3 L336.1,283.3 L336.2,283.3 L339.6,283.1 L340.0,283.1 L340.7,283.0 L341.0,282.9 L342.0,282.7 L342.5,282.6 L343.5,282.2 L344.0,282.0 L344.4,281.8 L345.1,281.4 L345.4,281.2 L346.4,280.4 L346.5,280.4 L346.6,280.3 L347.1,279.8 L347.8,279.2 L348.6,278.2 L349.7,277.0 L350.9,276.1 L352.4,275.4 L353.9,275.0 L355.4,274.8 L356.4,274.8 L357.6,274.7 L358.3,274.5 L358.9,274.3 L360.9,273.6 L361.0,273.6 L365.8,271.8 L365.9,271.8 L370.5,270.2 L370.7,270.2 L374.8,268.9 L375.2,268.7 L378.7,267.8 L379.2,267.7 L382.1,267.2 L382.6,267.0 L383.4,266.8 L384.5,266.3 L384.9,266.0 L385.8,265.2 L386.5,264.5 L387.9,263.3 L389.4,262.4 L391.1,261.9 L392.9,261.7 L394.3,261.9 L395.2,262.0 L396.3,262.0 L396.8,261.9 L397.9,261.6 L398.7,261.3 L399.2,261.1 L400.4,260.4 L401.0,260.1 L403.3,259.1 L404.1,258.8 L406.7,257.9 L407.1,257.7 L410.1,256.9 L410.3,256.8 L413.0,256.1 L413.6,255.9 L414.5,255.5 L415.6,254.8 L416.1,254.4 L416.7,253.7 L418.0,252.6 L419.4,251.7 L421.0,251.2 L422.7,250.9 L424.4,251.0 L425.6,251.2 L426.2,251.2 L427.4,251.1 L428.2,250.9 L428.8,250.7 L429.3,250.5 L429.3,250.5 L429.4,250.4 L429.5,250.4 L432.4,249.2 L432.4,249.2 L432.5,249.1 L432.6,249.1 L435.5,247.8 L435.5,247.8 L438.6,246.4 L438.6,246.4 L441.4,245.2 L441.5,245.1 L441.7,245.0 L441.8,245.0 L444.0,243.9 L444.2,243.8 L444.5,243.6 L444.7,243.5 L446.2,242.6 L446.5,242.4 L447.0,242.0 L447.3,241.8 L448.3,241.0 L448.6,240.7 L449.1,240.2 L449.4,239.9 L450.3,238.7 L450.5,238.5 L450.9,238.0 L451.1,237.8 L452.3,235.9 L452.4,235.7 L452.5,235.4 L452.6,235.3 L454.1,232.5 L454.1,232.5 L454.1,232.4 L454.2,232.3 L455.8,229.1 L455.9,228.9 L457.8,225.4 L457.9,225.2 L460.1,221.5 L461.1,219.7 L461.4,219.1 L461.7,218.3 L462.0,217.1 L462.1,216.5 L462.0,215.9 L462.2,214.1 L462.7,212.4 L463.5,210.9 L464.6,209.5 L466.0,208.4 L467.0,207.8 L467.4,207.5 L468.2,206.6 L468.7,205.9 L469.0,205.4 L469.1,205.4 L469.1,205.3 L470.9,202.0 L471.0,201.9 L472.6,199.0 L472.7,199.0 L472.7,198.9 L472.7,198.9 L474.1,196.4 L474.1,196.3 L474.3,196.0 L474.3,195.9 L475.4,193.6 L475.5,193.4 L475.6,193.1 L475.7,192.9 L476.7,190.2 L476.8,190.0 L476.9,189.7 L476.9,189.6 L478.0,185.9 L478.0,185.8 L478.1,185.6 L478.1,185.5 L479.2,181.2 L479.3,181.1 L479.3,180.9 L479.3,180.8 L480.3,176.3 L480.3,176.2 L480.3,175.9 L480.4,175.8 L481.0,171.6 L481.0,171.4 L481.1,171.1 L481.1,170.9 L481.2,169.7 L481.2,169.1 L481.2,168.2 L480.9,166.9 L480.7,166.4 L480.1,165.2 L479.8,164.7 L479.0,163.2 L478.4,161.5 L478.3,159.8 L478.5,158.0 L478.9,156.8 L479.3,155.3 L479.4,154.7 L479.4,153.5 L479.3,152.7 L479.2,152.1 L479.2,152.1 L479.2,151.9 L478.3,147.8 L478.3,147.5 L477.5,143.1 L476.7,138.4 L476.7,138.3 L475.8,133.6 L475.8,133.5 L475.7,133.4 L475.7,133.4 L474.8,128.8 L474.7,128.7 L474.7,128.6 L474.7,128.5 L473.6,124.1 L473.6,124.0 L473.5,123.8 L473.5,123.7 L472.2,119.2 L472.2,119.1 L472.1,119.0 L472.1,118.9 L471.1,115.7 L470.8,115.1 L470.5,114.4 L469.8,113.4 L469.5,112.9 L468.9,112.3 L467.7,111.0 L466.8,109.5 L466.3,107.8 L466.1,106.1 L466.3,104.3 L466.3,104.2 L466.3,103.6 L466.2,102.3 L466.1,101.5 L465.9,100.8 L465.7,100.2 L464.5,97.1 L464.5,97.0 L463.6,94.7 L463.6,94.6 L463.6,94.5 L463.6,94.5 L462.9,92.7 L462.8,92.6 L462.8,92.5 L462.7,92.4 L462.0,90.7 L462.0,90.7 L461.9,90.6 L461.9,90.5 L461.0,88.5 L459.9,86.3 L459.0,84.3 L458.9,84.2 L458.9,84.1 L458.8,84.0 L458.0,82.4 L457.9,82.3 L457.7,82.0 L457.7,81.9 L456.8,80.4 L456.7,80.3 L456.5,80.0 L456.4,79.8 L455.3,78.3 L455.1,78.2 L454.9,77.9 L454.8,77.7 L453.3,76.0 L453.2,75.9 L453.0,75.7 L452.9,75.6 L450.9,73.6 L450.8,73.5 L450.8,73.4 L450.7,73.4 L448.2,71.0 L445.5,68.4 L445.4,68.3 L442.6,65.6 L442.4,65.4 L441.2,64.2 L440.8,63.8 L440.1,63.3 L439.1,62.7 L438.6,62.4 L438.1,62.3 L436.5,61.6 L435.0,60.6 L433.8,59.4 L432.8,57.9 L432.2,56.2 L432.1,55.8 L431.9,55.3 L431.3,54.2 L430.7,53.5 L430.3,53.0 L430.0,52.7 L429.9,52.6 L429.7,52.5 L429.7,52.4 L426.8,49.8 L426.7,49.7 L426.6,49.6 L426.5,49.6 L423.8,47.3 L423.8,47.3 L423.6,47.2 L423.6,47.1 L421.0,45.2 L420.9,45.1 L420.8,45.0 L420.7,44.9 L418.2,43.1 L418.1,43.1 L417.9,42.9 L417.8,42.9 L415.0,41.1 L414.9,41.0 L414.8,40.9 L414.7,40.9 L411.4,39.0 L411.3,38.9 L411.2,38.9 L411.1,38.8 L407.2,36.7 L407.1,36.6 L407.0,36.6 L407.0,36.6 L402.5,34.3 L402.5,34.3 L402.4,34.2 L402.3,34.2 L398.7,32.5 L398.1,32.2 L397.3,32.0 L396.1,31.8 L395.5,31.7 L394.2,31.9 L392.6,31.9 L391.0,31.5 L389.4,30.9 L388.1,30.0 L386.9,28.9 L386.4,28.3 L385.9,27.9 L384.8,27.2 L384.0,26.8 L383.4,26.5 L383.3,26.5 L383.2,26.5 L383.0,26.4 L382.9,26.4 L378.3,25.1 L378.2,25.1 L378.1,25.1 L378.0,25.1 L373.5,24.0 L373.4,24.0 L373.2,24.0 L373.1,24.0 L368.9,23.2 L368.8,23.1 L368.6,23.1 L368.5,23.1 L364.8,22.6 L364.7,22.5 L364.5,22.5 L364.3,22.5 L361.6,22.3 L361.4,22.3 L361.1,22.2 L360.9,22.2 L358.9,22.2 L358.7,22.2 L358.4,22.2 L358.2,22.2 L356.2,22.4 L356.1,22.4 L355.8,22.4 L355.7,22.4 L353.1,22.8 L353.1,22.8 L349.6,23.3 L349.5,23.3 L345.5,24.0 L345.4,24.0 L345.3,24.0 L345.2,24.0 L340.8,24.9 L340.7,24.9 L335.8,26.0 L333.3,26.5 L332.7,26.7 L331.8,27.0 L330.7,27.6 L329.7,28.3 L329.7,28.3 L329.2,28.7 L327.7,29.5 L326.1,29.9 L324.5,30.1 L322.8,29.9 L322.3,29.8 L322.3,29.8 L321.1,29.5 L319.8,29.4 L318.9,29.4 L318.2,29.5 L316.1,29.9 L311.4,30.7 L311.3,30.7 L311.2,30.7 L311.2,30.8 L306.7,31.7 L306.7,31.7 L306.5,31.7 L306.4,31.7 L302.1,32.8 L302.0,32.8 L301.8,32.9 L301.7,32.9 L297.4,34.2 L297.4,34.2 L297.2,34.2 L297.1,34.3 L292.6,35.8 L292.5,35.8 L289.0,37.1 L288.4,37.3 L287.7,37.7 L286.6,38.4 L285.8,39.2 L285.8,39.2 L285.2,39.8 L283.6,40.8 L281.9,41.4 L280.1,41.7 L278.3,41.6 L277.7,41.5 L276.4,41.4 L275.5,41.5 L274.8,41.6 L273.0,42.1 L272.7,42.2 L267.6,43.3 L262.8,44.4 L262.7,44.4 L262.5,44.4 L262.4,44.5 L258.6,45.5 L258.4,45.6 L258.0,45.7 L257.7,45.8 L255.1,46.8 L254.8,46.9 L254.2,47.2 L254.0,47.3 L252.2,48.3 L251.9,48.5 L251.4,48.8 L251.2,48.9 L249.9,49.9 L249.7,50.1 L249.2,50.4 L249.0,50.6 L247.7,51.8 L247.6,52.0 L247.3,52.2 L247.2,52.4 L245.4,54.3 L245.4,54.4 L245.3,54.4 L245.3,54.5 L243.0,57.1 L243.0,57.2 L242.9,57.3 L242.9,57.4 L240.2,60.6 L240.2,60.7 L240.1,60.9 L240.0,61.0 L237.1,64.9 L237.1,64.9 L237.0,65.0 L237.0,65.1 L236.2,66.2 L235.9,66.7 L235.5,67.5 L235.1,68.7 L235.0,69.2 L234.9,70.3 L234.6,72.0 L234.0,73.6 L233.1,75.0 L231.9,76.2 L230.5,77.2 L229.7,77.6 L229.2,78.0 L228.3,78.9 L227.8,79.6 L227.4,80.2 L227.3,80.5 L227.2,80.6 L227.1,80.8 L227.0,80.9 L225.9,83.2 L225.9,83.3 L225.8,83.5 L225.7,83.6 L224.8,85.7 L224.8,85.8 L224.7,86.0 L224.7,86.1 L223.8,88.4 L223.8,88.5 L222.8,91.3 L222.7,91.4 L221.7,94.4 L221.7,94.5 L221.7,94.6 L221.6,94.6 L220.7,97.7 L220.7,97.7 L220.6,97.9 L220.6,97.9 L219.7,101.1 L219.7,101.1 L219.7,101.2 L219.7,101.3 L219.6,101.8 L219.5,102.6 L219.4,103.8 L219.5,104.3 L219.9,105.9 L220.1,107.4 L220.1,108.9 L219.8,110.4 L219.2,111.8 L218.4,113.1 L217.5,114.3 L217.3,114.8 L216.8,115.9 L216.6,116.7 L216.5,117.2 L216.1,120.2 L215.7,123.4 L215.7,123.4 L215.4,126.4 L215.4,126.5 L215.1,129.5 L214.8,132.1 L214.8,132.7 L214.9,133.5 L215.0,134.6 L215.2,135.1 L215.4,135.5 L215.9,137.3 L216.0,139.1 L215.8,141.0 L215.1,142.7Z" fill="#efe2df"/>
<path d="M236.4,66.7 L235.6,68.2 L235.3,69.9 L235.4,71.6 L235.9,73.2 L236.9,74.6 L238.2,75.8 L239.7,76.5 L281.8,90.6 L283.6,90.9 L285.5,90.7 L287.2,90.0 L288.6,88.9 L289.7,87.3 L294.1,78.6 L294.7,76.9 L294.8,75.0 L294.3,73.2 L282.8,45.7 L281.9,44.1 L280.5,42.9 L278.9,42.1 L277.0,41.7 L275.2,42.0 L273.0,42.5 L272.9,42.6 L267.7,43.7 L267.7,43.7 L262.9,44.8 L262.6,44.8 L258.6,45.9 L258.0,46.1 L255.1,47.2 L254.3,47.6 L252.2,48.7 L251.5,49.2 L250.0,50.3 L249.4,50.8 L247.9,52.2 L247.5,52.6 L245.7,54.6 L245.6,54.7 L243.3,57.4 L243.2,57.6 L240.5,60.9 L240.4,61.2 L237.5,65.1 L237.3,65.3Z" fill="url(#cg)" stroke="#c4664b" stroke-width="0.6"/>
<path d="M288.9,37.5 L287.3,38.3 L286.1,39.5 L285.1,41.0 L284.6,42.7 L284.6,44.5 L285.1,46.2 L295.0,69.9 L295.9,71.5 L297.2,72.7 L298.8,73.5 L300.6,73.9 L302.4,73.8 L328.2,68.2 L329.7,67.7 L331.0,66.8 L332.1,65.6 L332.9,64.3 L333.3,62.7 L333.8,59.1 L333.8,57.5 L333.5,56.0 L325.9,34.1 L325.0,32.4 L323.8,31.1 L322.2,30.2 L320.4,29.7 L318.6,29.8 L316.1,30.3 L316.1,30.3 L311.4,31.1 L311.3,31.1 L306.8,32.1 L306.6,32.1 L302.2,33.2 L301.9,33.3 L297.5,34.6 L297.3,34.6 L292.7,36.2 L292.6,36.2Z" fill="url(#cg)" stroke="#c4664b" stroke-width="0.6"/>
<path d="M333.1,26.9 L331.4,27.6 L329.9,28.6 L328.8,30.1 L328.2,31.8 L328.0,33.6 L328.3,35.4 L334.3,52.6 L335.2,54.2 L336.5,55.5 L338.1,56.5 L339.9,56.9 L372.4,59.9 L374.1,59.9 L375.7,59.4 L377.1,58.6 L378.2,57.4 L379.0,56.0 L387.6,35.7 L388.0,34.0 L388.0,32.2 L387.5,30.5 L386.5,29.0 L385.2,27.8 L383.6,27.0 L383.1,26.9 L382.8,26.8 L378.2,25.5 L377.9,25.5 L373.3,24.4 L373.1,24.4 L368.8,23.5 L368.5,23.5 L364.7,23.0 L364.4,22.9 L361.5,22.7 L361.0,22.6 L358.8,22.6 L358.3,22.6 L356.2,22.8 L355.8,22.8 L353.2,23.2 L353.1,23.2 L349.7,23.7 L349.5,23.7 L345.5,24.4 L345.3,24.4 L340.8,25.3 L340.7,25.3 L335.8,26.3 L335.8,26.4Z" fill="url(#cg)" stroke="#c4664b" stroke-width="0.6"/>
<path d="M379.9,59.0 L379.4,60.6 L379.4,62.3 L379.8,63.9 L385.7,78.6 L386.6,80.2 L387.9,81.5 L389.4,82.3 L391.2,82.7 L404.3,83.8 L406.1,83.7 L407.8,83.1 L409.3,82.1 L430.1,62.9 L431.2,61.6 L431.9,60.0 L432.2,58.3 L432.0,56.5 L431.3,54.9 L430.2,53.5 L429.6,52.9 L429.4,52.7 L426.5,50.1 L426.3,49.9 L423.5,47.6 L423.4,47.5 L420.7,45.4 L420.5,45.3 L417.9,43.4 L417.6,43.2 L414.8,41.4 L414.5,41.3 L411.1,39.3 L411.0,39.2 L406.9,37.0 L406.8,36.9 L402.3,34.6 L402.1,34.6 L398.3,32.7 L396.6,32.2 L394.9,32.1 L393.2,32.5 L391.6,33.3 L390.4,34.6 L389.5,36.1Z" fill="url(#cg)" stroke="#c4664b" stroke-width="0.6"/>
<path d="M334.9,65.0 L334.9,66.7 L335.3,68.4 L336.2,69.9 L349.8,87.5 L351.1,88.9 L352.8,89.7 L354.6,90.1 L356.5,89.9 L378.0,84.5 L379.5,83.9 L380.8,83.0 L381.8,81.8 L382.5,80.4 L382.9,78.9 L382.9,77.3 L382.5,75.8 L378.6,66.0 L377.7,64.4 L376.5,63.2 L374.9,62.3 L373.2,61.9 L342.0,59.0 L340.3,59.1 L338.8,59.5 L337.4,60.4 L336.2,61.6 L335.4,63.0 L334.9,64.6Z" fill="url(#cg)" stroke="#c4664b" stroke-width="0.6"/>
<path d="M292.2,86.6 L291.6,88.3 L291.5,90.1 L291.9,91.9 L292.7,93.5 L294.0,94.7 L295.6,95.6 L333.5,110.6 L335.2,111.0 L337.1,110.9 L338.8,110.3 L340.3,109.3 L341.4,107.9 L348.6,95.9 L349.2,94.4 L349.5,92.9 L349.4,91.4 L348.9,89.9 L348.2,88.6 L335.6,72.3 L334.3,71.0 L332.7,70.2 L330.9,69.8 L329.1,69.9 L300.2,76.2 L298.4,76.9 L296.9,78.0 L295.7,79.6Z" fill="url(#cg)" stroke="#c4664b" stroke-width="0.6"/>
<path d="M220.0,101.6 L219.8,103.2 L220.0,104.8 L220.6,106.3 L221.5,107.6 L222.7,108.7 L224.2,109.4 L225.7,109.7 L271.4,113.6 L273.3,113.5 L275.0,112.9 L276.5,111.7 L277.7,110.2 L282.6,100.8 L283.2,99.3 L283.4,97.7 L283.2,96.1 L282.6,94.6 L281.6,93.3 L280.4,92.3 L279.0,91.6 L235.8,77.2 L235.6,77.1 L233.9,76.8 L232.1,77.0 L230.4,77.6 L229.0,78.7 L227.9,80.1 L227.6,80.7 L227.4,81.0 L226.3,83.4 L226.1,83.7 L225.2,85.9 L225.1,86.2 L224.2,88.6 L224.1,88.7 L223.1,91.5 L223.1,91.5 L222.1,94.6 L222.0,94.7 L221.1,97.8 L221.0,98.0 L220.1,101.2 L220.1,101.3Z" fill="url(#cg)" stroke="#c4664b" stroke-width="0.6"/>
<path d="M345.1,105.4 L344.4,107.0 L344.2,108.8 L344.4,110.5 L345.1,112.1 L346.2,113.5 L347.6,114.5 L349.3,115.1 L368.3,119.3 L369.8,119.4 L371.3,119.2 L405.8,110.3 L407.3,109.7 L408.7,108.7 L409.7,107.4 L410.4,105.9 L410.6,104.2 L410.5,102.6 L407.8,90.6 L407.2,89.0 L406.3,87.7 L405.0,86.6 L403.6,85.8 L402.0,85.5 L387.7,84.3 L385.5,84.5 L355.2,92.2 L353.6,92.8 L352.3,93.8 L351.2,95.1Z" fill="url(#cg)" stroke="#c4664b" stroke-width="0.6"/>
<path d="M411.3,82.8 L410.2,84.1 L409.5,85.6 L409.2,87.3 L409.4,89.0 L413.3,106.2 L413.8,107.8 L414.8,109.2 L416.1,110.3 L426.7,117.2 L428.4,117.9 L430.2,118.2 L432.0,118.0 L461.3,109.7 L462.9,109.0 L464.3,107.9 L465.3,106.4 L465.9,104.7 L466.0,103.0 L465.6,101.2 L465.3,100.3 L464.2,97.2 L464.1,97.1 L463.3,94.8 L463.2,94.6 L462.5,92.8 L462.4,92.6 L461.6,90.9 L461.6,90.7 L460.6,88.7 L460.6,88.7 L459.6,86.5 L459.6,86.4 L458.6,84.4 L458.5,84.2 L457.6,82.5 L457.4,82.2 L456.4,80.6 L456.1,80.1 L454.9,78.5 L454.5,78.1 L452.9,76.2 L452.7,75.9 L450.6,73.8 L450.5,73.7 L448.0,71.3 L447.9,71.3 L445.2,68.7 L445.1,68.6 L442.2,65.8 L442.2,65.8 L440.7,64.3 L439.4,63.2 L437.9,62.6 L436.3,62.3 L434.6,62.5 L433.0,63.1 L431.7,64.0Z" fill="url(#cg)" stroke="#c4664b" stroke-width="0.6"/>
<path d="M215.2,132.4 L215.3,134.0 L215.7,135.5 L216.5,136.9 L217.6,138.0 L218.9,138.9 L220.5,139.3 L260.6,147.2 L262.1,147.3 L263.5,147.1 L264.9,146.5 L278.6,139.3 L279.9,138.4 L281.0,137.2 L281.7,135.8 L282.1,134.2 L282.0,132.7 L281.6,131.1 L277.0,119.6 L276.1,118.1 L274.9,116.8 L273.3,116.0 L271.5,115.6 L223.9,111.5 L222.3,111.5 L220.7,112.0 L219.3,112.9 L218.2,114.0 L217.3,115.5 L216.9,117.1 L216.9,117.1 L216.9,117.2 L216.5,120.3 L216.5,120.3 L216.1,123.4 L216.1,123.5 L215.8,126.5 L215.8,126.6 L215.5,129.6 L215.5,129.6Z" fill="url(#cg)" stroke="#c4664b" stroke-width="0.6"/>
<path d="M278.7,112.4 L278.0,114.2 L277.9,116.0 L278.4,117.9 L284.6,133.5 L285.5,135.1 L286.9,136.4 L288.5,137.2 L311.8,145.2 L313.5,145.5 L315.2,145.4 L316.8,144.9 L318.2,143.9 L319.4,142.6 L333.3,120.9 L334.0,119.4 L334.3,117.8 L334.2,116.2 L333.7,114.6 L332.8,113.3 L331.6,112.1 L330.2,111.4 L293.4,96.8 L291.9,96.4 L290.3,96.4 L288.8,96.8 L287.4,97.5 L286.2,98.5 L285.3,99.8Z" fill="url(#cg)" stroke="#c4664b" stroke-width="0.6"/>
<path d="M319.1,146.5 L318.3,148.3 L318.1,150.4 L319.1,169.0 L319.4,170.7 L320.0,172.1 L321.1,173.4 L322.4,174.4 L323.9,175.0 L325.6,175.2 L327.2,175.0 L352.2,168.5 L353.5,168.0 L354.6,167.3 L373.4,152.5 L374.7,151.1 L375.5,149.4 L375.8,147.6 L375.6,145.7 L370.1,125.2 L369.4,123.6 L368.3,122.2 L366.8,121.2 L365.2,120.6 L343.9,115.8 L342.3,115.7 L340.7,115.9 L339.3,116.5 L338.0,117.5 L337.0,118.7Z" fill="url(#cg)" stroke="#c4664b" stroke-width="0.6"/>
<path d="M377.6,145.7 L378.2,147.3 L379.3,148.6 L380.7,149.7 L382.4,150.3 L400.1,154.4 L401.8,154.6 L403.4,154.3 L420.1,149.4 L421.8,148.7 L423.2,147.4 L424.2,145.9 L424.7,144.1 L427.4,124.4 L427.4,122.5 L426.9,120.8 L425.9,119.2 L424.5,118.0 L415.2,112.0 L413.6,111.2 L411.8,110.9 L410.1,111.1 L377.3,119.6 L375.7,120.3 L374.4,121.3 L373.3,122.7 L372.7,124.2 L372.5,125.9 L372.7,127.6Z" fill="url(#cg)" stroke="#c4664b" stroke-width="0.6"/>
<path d="M434.0,119.4 L432.2,120.2 L430.8,121.4 L429.8,123.0 L429.3,124.8 L426.3,146.2 L426.3,147.8 L426.7,149.4 L427.5,150.9 L432.3,157.7 L433.4,158.9 L434.7,159.7 L436.1,160.3 L437.6,160.5 L472.6,160.5 L474.2,160.2 L475.8,159.6 L477.1,158.6 L478.1,157.3 L478.8,155.8 L479.1,154.1 L478.9,152.5 L478.8,152.1 L478.8,152.0 L477.9,147.8 L477.9,147.7 L477.1,143.1 L476.3,138.4 L476.3,138.4 L475.4,133.6 L475.3,133.5 L474.4,128.8 L474.3,128.6 L473.2,124.2 L473.1,123.9 L471.8,119.3 L471.7,119.1 L470.6,115.5 L469.9,114.0 L468.8,112.8 L467.5,111.8 L465.9,111.2 L464.3,111.0 L462.6,111.3Z" fill="url(#cg)" stroke="#c4664b" stroke-width="0.6"/>
<path d="M212.0,172.7 L212.3,174.3 L213.1,175.8 L214.2,177.1 L215.5,178.0 L217.1,178.6 L253.4,186.3 L255.2,186.5 L257.0,186.1 L258.6,185.2 L259.9,183.9 L260.8,182.3 L263.5,175.4 L263.9,174.0 L263.9,172.6 L262.5,154.3 L262.1,152.7 L261.4,151.2 L260.3,149.9 L258.9,149.0 L257.3,148.4 L221.2,141.4 L219.5,141.3 L217.8,141.7 L216.2,142.5 L214.9,143.7 L214.0,145.3 L213.6,147.0 L213.5,147.4 L213.5,147.4 L213.0,151.5 L212.9,151.6 L212.5,155.5 L212.5,155.7 L212.1,159.2 L212.1,159.4 L211.9,162.6 L211.9,162.7 L211.8,165.7 L211.8,165.9 L211.8,168.6 L211.8,168.9 L211.9,171.5 L211.9,171.8Z" fill="url(#cg)" stroke="#c4664b" stroke-width="0.6"/>
<path d="M265.4,167.8 L265.8,169.5 L266.7,171.2 L268.0,172.5 L269.7,173.3 L271.4,173.7 L310.2,176.6 L312.1,176.5 L313.8,175.9 L315.3,174.8 L316.4,173.3 L317.0,171.6 L317.2,169.8 L316.3,153.1 L316.1,151.6 L315.4,150.1 L314.5,148.9 L313.3,147.9 L311.9,147.3 L287.7,138.9 L286.0,138.6 L284.3,138.7 L282.6,139.3 L267.8,147.2 L266.3,148.3 L265.1,149.8 L264.5,151.5 L264.3,153.4Z" fill="url(#cg)" stroke="#c4664b" stroke-width="0.6"/>
<path d="M359.3,166.0 L358.1,167.3 L357.2,168.8 L356.8,170.6 L356.9,172.3 L357.5,174.0 L367.0,193.6 L367.9,194.9 L369.1,196.0 L370.5,196.8 L372.1,197.2 L373.7,197.2 L394.5,194.4 L396.3,193.9 L397.9,192.9 L399.1,191.6 L399.9,189.9 L400.2,188.1 L400.7,161.8 L400.5,160.1 L399.9,158.4 L398.8,157.0 L397.4,156.0 L395.7,155.4 L381.1,151.9 L379.1,151.8 L377.3,152.2 L375.6,153.2Z" fill="url(#cg)" stroke="#c4664b" stroke-width="0.6"/>
<path d="M402.0,191.8 L402.1,193.3 L402.6,194.7 L403.4,196.0 L412.7,207.7 L413.9,208.8 L415.3,209.6 L416.9,210.1 L418.6,210.1 L420.2,209.6 L430.2,205.6 L431.6,204.8 L432.7,203.7 L433.6,202.4 L434.1,200.9 L434.3,199.3 L432.9,163.7 L432.6,161.8 L431.7,160.1 L427.3,153.9 L426.2,152.7 L424.9,151.8 L423.4,151.3 L421.8,151.1 L420.2,151.4 L407.3,155.2 L405.8,155.8 L404.5,156.8 L403.5,158.1 L402.9,159.7 L402.6,161.3Z" fill="url(#cg)" stroke="#c4664b" stroke-width="0.6"/>
<path d="M441.5,162.3 L439.8,162.6 L438.2,163.3 L436.9,164.3 L435.8,165.7 L435.2,167.4 L435.0,169.1 L436.1,198.6 L436.4,200.3 L437.2,201.9 L438.3,203.2 L439.7,204.2 L441.4,204.7 L461.6,208.7 L463.2,208.9 L464.8,208.6 L466.3,207.9 L467.6,206.8 L468.5,205.5 L468.7,205.1 L468.7,205.1 L470.6,201.7 L470.6,201.7 L472.3,198.8 L472.4,198.7 L473.8,196.2 L473.9,195.8 L475.1,193.4 L475.3,192.9 L476.4,189.9 L476.5,189.6 L477.6,185.7 L477.7,185.5 L478.9,181.0 L478.9,180.8 L479.9,176.1 L480.0,175.8 L480.6,171.4 L480.7,171.0 L480.8,169.4 L480.7,167.6 L480.2,165.9 L479.1,164.5 L477.8,163.3 L476.1,162.6 L474.4,162.3Z" fill="url(#cg)" stroke="#c4664b" stroke-width="0.6"/>
<path d="M222.8,181.7 L221.2,181.6 L219.6,181.9 L218.1,182.5 L216.9,183.5 L215.9,184.8 L215.2,186.3 L215.0,187.9 L215.1,189.5 L215.3,190.2 L215.3,190.3 L215.9,193.5 L215.9,193.6 L216.4,196.8 L216.4,196.9 L217.0,199.9 L217.0,200.1 L217.6,202.8 L217.7,203.2 L218.3,205.7 L218.4,206.0 L219.3,208.6 L219.4,208.8 L220.3,211.4 L220.4,211.7 L221.4,214.0 L221.6,214.5 L222.6,216.2 L223.0,216.9 L223.7,218.0 L224.5,218.9 L225.2,219.6 L226.0,220.3 L227.2,221.2 L227.7,221.5 L229.7,222.7 L229.8,222.7 L232.1,224.1 L232.4,224.3 L234.5,225.8 L234.7,225.9 L236.5,227.4 L236.6,227.5 L238.0,228.4 L239.6,228.9 L241.3,228.9 L243.0,228.6 L244.5,227.8 L256.4,219.3 L257.6,218.3 L258.5,216.9 L259.0,215.4 L259.1,213.8 L258.6,194.5 L258.3,192.8 L257.6,191.2 L256.5,189.9 L255.1,188.9 L253.5,188.3Z" fill="url(#cg)" stroke="#c4664b" stroke-width="0.6"/>
<path d="M261.0,212.1 L261.3,213.8 L261.9,215.3 L263.0,216.6 L264.4,217.6 L266.0,218.2 L289.3,223.9 L290.9,224.1 L292.5,223.9 L294.0,223.3 L295.3,222.4 L312.7,206.2 L313.7,205.0 L314.4,203.7 L314.8,202.2 L316.7,185.8 L316.7,184.1 L316.2,182.4 L315.3,180.9 L314.0,179.7 L312.5,178.9 L310.8,178.6 L270.4,175.6 L268.8,175.6 L267.2,176.1 L265.8,177.0 L264.7,178.2 L263.9,179.7 L260.8,187.5 L260.5,188.8 L260.4,190.1Z" fill="url(#cg)" stroke="#c4664b" stroke-width="0.6"/>
<path d="M323.8,177.8 L322.3,178.4 L321.0,179.3 L320.0,180.5 L319.3,181.9 L318.9,183.4 L316.8,200.9 L316.9,202.6 L317.3,204.2 L318.2,205.6 L319.3,206.8 L338.6,221.6 L339.9,222.4 L341.4,222.8 L342.9,222.9 L357.6,222.3 L359.3,222.0 L360.8,221.3 L362.1,220.2 L363.1,218.8 L363.7,217.1 L367.0,201.1 L367.2,199.7 L367.0,198.3 L366.5,196.9 L355.8,174.9 L354.8,173.4 L353.5,172.3 L351.9,171.5 L350.1,171.2 L348.3,171.5Z" fill="url(#cg)" stroke="#c4664b" stroke-width="0.6"/>
<path d="M299.8,238.6 L300.9,240.1 L302.3,241.4 L304.0,242.1 L305.9,242.4 L329.4,241.9 L331.1,241.7 L332.6,241.1 L333.9,240.0 L334.9,238.7 L335.6,237.2 L337.9,228.6 L338.2,227.1 L338.0,225.5 L337.6,224.1 L336.7,222.8 L335.6,221.7 L319.8,209.6 L318.2,208.7 L316.5,208.3 L314.6,208.4 L312.9,208.9 L311.4,210.0 L297.6,222.8 L296.5,224.1 L295.8,225.5 L295.5,227.1 L295.6,228.7 L296.1,230.3Z" fill="url(#cg)" stroke="#c4664b" stroke-width="0.6"/>
<path d="M365.0,220.0 L364.9,221.8 L365.3,223.5 L366.1,225.1 L390.3,258.9 L391.4,260.1 L392.7,261.0 L394.2,261.5 L395.7,261.7 L397.3,261.4 L398.7,260.9 L400.4,259.9 L400.6,259.8 L403.4,258.6 L403.7,258.5 L406.7,257.4 L406.9,257.4 L410.1,256.4 L410.1,256.4 L413.2,255.6 L414.9,254.9 L416.3,253.7 L417.3,252.2 L417.9,250.5 L418.0,248.7 L414.7,214.9 L414.2,213.1 L413.3,211.5 L402.9,198.4 L401.7,197.2 L400.2,196.4 L398.6,196.0 L396.9,196.0 L373.9,199.1 L372.3,199.5 L370.9,200.2 L369.7,201.3 L368.9,202.6 L368.3,204.2Z" fill="url(#cg)" stroke="#c4664b" stroke-width="0.6"/>
<path d="M419.5,245.0 L419.9,246.7 L420.7,248.2 L421.9,249.4 L423.4,250.3 L425.0,250.8 L426.7,250.8 L428.4,250.4 L429.2,250.1 L429.3,250.1 L432.2,248.8 L432.4,248.8 L435.4,247.4 L438.4,246.0 L441.3,244.8 L441.6,244.7 L443.9,243.5 L444.4,243.2 L446.1,242.2 L446.9,241.6 L448.2,240.6 L449.0,239.8 L450.1,238.4 L450.6,237.7 L452.0,235.6 L452.2,235.2 L453.7,232.3 L453.8,232.2 L455.5,228.8 L455.6,228.7 L457.5,225.1 L457.6,225.0 L459.8,221.2 L459.8,221.2 L460.9,219.3 L461.5,217.6 L461.7,215.9 L461.5,214.2 L460.7,212.6 L459.6,211.2 L458.2,210.2 L456.5,209.7 L437.4,205.9 L435.5,205.8 L433.7,206.2 L420.9,211.4 L419.5,212.2 L418.3,213.4 L417.4,214.8 L416.9,216.4 L416.9,218.0Z" fill="url(#cg)" stroke="#c4664b" stroke-width="0.6"/>
<path d="M246.6,228.6 L245.3,229.9 L244.3,231.5 L243.9,233.3 L244.0,235.1 L244.6,236.9 L245.0,237.7 L245.2,238.1 L246.3,241.0 L246.4,241.1 L247.4,244.0 L247.5,244.3 L248.4,246.5 L248.8,247.2 L249.7,248.8 L250.2,249.6 L251.4,251.1 L251.7,251.5 L253.3,253.3 L253.6,253.6 L255.4,255.4 L255.7,255.6 L257.8,257.4 L257.9,257.6 L260.2,259.5 L260.3,259.6 L262.7,261.4 L262.9,261.6 L265.4,263.4 L265.6,263.5 L268.2,265.3 L268.4,265.4 L271.0,267.0 L271.3,267.2 L273.9,268.6 L274.2,268.8 L276.7,270.0 L277.0,270.2 L279.5,271.3 L279.8,271.4 L282.4,272.5 L282.7,272.5 L285.7,273.6 L285.8,273.7 L286.3,273.8 L288.0,274.1 L289.8,273.9 L291.5,273.3 L293.0,272.1 L294.0,270.7 L294.6,269.0 L299.6,245.6 L299.7,243.5 L299.1,241.6 L293.6,229.5 L292.6,227.9 L291.1,226.6 L289.3,225.9 L263.3,219.5 L261.4,219.3 L259.6,219.7 L258.0,220.5Z" fill="url(#cg)" stroke="#c4664b" stroke-width="0.6"/>
<path d="M345.7,224.7 L344.0,225.0 L342.6,225.7 L341.3,226.7 L340.3,228.0 L339.7,229.5 L336.7,240.3 L336.5,241.8 L336.6,243.4 L337.2,244.9 L350.4,270.9 L351.3,272.2 L352.5,273.3 L353.8,274.0 L355.4,274.4 L357.0,274.4 L358.5,274.1 L360.8,273.2 L360.8,273.2 L365.7,271.4 L365.7,271.4 L370.5,269.8 L370.6,269.8 L374.8,268.4 L375.0,268.4 L378.7,267.4 L378.9,267.4 L382.3,266.7 L383.8,266.2 L385.2,265.3 L386.3,264.2 L387.0,262.7 L387.5,261.2 L387.5,259.5 L387.1,258.0 L386.3,256.6 L365.0,226.8 L363.9,225.6 L362.5,224.8 L361.0,224.3 L359.4,224.1Z" fill="url(#cg)" stroke="#c4664b" stroke-width="0.6"/>
<path d="M296.2,270.8 L296.1,272.4 L296.3,274.0 L297.0,275.5 L298.0,276.8 L299.3,277.7 L300.8,278.4 L302.6,278.9 L302.9,279.0 L307.5,280.1 L307.8,280.2 L312.5,281.1 L312.8,281.1 L318.0,281.8 L318.3,281.8 L324.1,282.4 L324.4,282.4 L330.2,282.8 L330.5,282.8 L335.7,282.9 L336.1,282.9 L339.8,282.7 L340.8,282.6 L342.2,282.3 L343.6,281.8 L344.0,281.6 L345.0,281.0 L346.2,280.1 L346.6,279.8 L347.9,278.5 L348.9,276.9 L349.3,275.1 L349.2,273.3 L348.6,271.6 L336.3,247.4 L335.2,245.9 L333.8,244.8 L332.2,244.1 L330.4,243.8 L307.0,244.2 L305.2,244.5 L303.6,245.2 L302.3,246.3 L301.3,247.8 L300.7,249.4Z" fill="url(#cg)" stroke="#c4664b" stroke-width="0.6"/>
<path d="M404.0,298.0 L407.1,297.7 L410.6,297.5 L414.1,297.5 L417.4,297.6 L420.0,297.6 L421.7,297.6 L422.6,297.6 L423.4,297.7 L424.3,297.8 L426.0,298.0 L428.6,298.3 L431.8,298.7 L435.3,299.1 L438.8,299.7 L442.0,300.4 L445.0,301.3 L447.8,302.3 L450.6,303.4 L453.4,304.7 L456.0,306.0 L458.6,307.5 L461.1,309.1 L463.6,310.8 L465.9,312.5 L468.0,314.0 L469.9,315.4 L471.6,316.6 L473.2,317.8 L474.7,319.0 L476.0,320.0 L477.2,320.9 L478.3,321.6 L479.3,322.4 L480.2,323.1 L481.0,324.0 L481.7,325.0 L482.2,326.1 L482.7,327.2 L483.2,328.5 L484.0,330.0 L485.0,331.8 L486.2,333.8 L487.5,336.0 L488.8,338.1 L490.0,340.0 L491.2,341.7 L492.4,343.2 L493.7,344.8 L494.9,346.3 L496.0,348.0 L497.1,349.9 L498.2,351.9 L499.2,353.9 L500.1,356.0 L501.0,358.0 L501.7,360.0 L502.4,362.0 L503.0,364.0 L503.5,366.0 L504.0,368.0 L504.4,370.0 L504.8,371.9 L505.2,373.9 L505.6,375.9 L506.0,378.0 L506.6,380.3 L507.3,382.7 L508.0,385.1 L508.6,387.6 L509.0,390.0 L509.1,392.4 L509.0,394.8 L508.8,397.2 L508.5,399.6 L508.0,402.0 L507.4,404.4 L506.6,406.8 L505.7,409.2 L504.8,411.6 L504.0,414.0 L503.2,416.4 L502.5,418.9 L501.7,421.3 L500.9,423.7 L500.0,426.0 L499.0,428.2 L497.8,430.3 L496.6,432.4 L495.4,434.3 L494.0,436.0 L492.6,437.5 L491.1,438.8 L489.6,439.9 L487.9,441.0 L486.0,442.0 L483.9,442.9 L481.5,443.7 L479.0,444.4 L476.5,445.2 L474.0,446.0 L471.6,446.9 L469.1,447.9 L466.7,448.9 L464.3,449.9 L462.0,451.0 L459.9,452.2 L457.9,453.4 L455.9,454.6 L454.0,455.8 L452.0,457.0 L450.0,458.1 L448.0,459.1 L446.0,460.1 L444.0,461.1 L442.0,462.0 L440.0,462.8 L438.1,463.6 L436.1,464.4 L434.1,465.2 L432.0,466.0 L429.8,467.0 L427.5,468.2 L425.2,469.3 L422.7,470.3 L420.0,471.0 L417.0,471.4 L413.7,471.5 L410.3,471.5 L407.0,471.3 L404.0,471.0 L401.3,470.6 L398.9,470.1 L396.6,469.4 L394.3,468.7 L392.0,468.0 L389.6,467.3 L387.1,466.6 L384.7,465.8 L382.3,464.9 L380.0,464.0 L377.8,463.0 L375.8,461.8 L373.8,460.6 L371.8,459.4 L370.0,458.0 L368.3,456.5 L366.7,454.8 L365.1,453.2 L363.6,451.5 L362.0,450.0 L360.4,448.6 L358.8,447.4 L357.2,446.2 L355.6,445.0 L354.0,444.0 L352.4,443.1 L350.7,442.4 L349.1,441.6 L347.5,440.9 L346.0,440.0 L344.7,439.0 L343.4,437.8 L342.2,436.6 L341.1,435.4 L340.0,434.0 L338.9,432.6 L337.9,431.0 L336.9,429.4 L335.9,427.8 L335.0,426.0 L334.1,424.2 L333.2,422.2 L332.4,420.2 L331.7,418.2 L331.0,416.0 L330.4,413.7 L330.0,411.3 L329.6,408.9 L329.2,406.4 L329.0,404.0 L328.9,401.6 L328.9,399.2 L329.0,396.8 L329.0,394.4 L329.0,392.0 L328.9,389.6 L328.7,387.1 L328.4,384.7 L328.2,382.3 L328.0,380.0 L327.8,377.8 L327.5,375.8 L327.2,373.8 L327.0,371.8 L327.0,370.0 L327.2,368.3 L327.6,366.7 L328.1,365.1 L328.6,363.6 L329.0,362.0 L329.4,360.4 L329.8,358.9 L330.2,357.3 L330.6,355.7 L331.0,354.0 L331.4,352.1 L331.7,350.1 L332.0,348.1 L332.4,346.0 L333.0,344.0 L333.8,342.0 L334.6,339.9 L335.6,337.8 L336.8,335.8 L338.0,334.0 L339.3,332.4 L340.8,330.9 L342.4,329.5 L344.1,328.2 L346.0,327.0 L348.1,325.9 L350.5,325.0 L353.0,324.1 L355.5,323.2 L358.0,322.0 L360.4,320.6 L362.9,318.9 L365.3,317.2 L367.7,315.5 L370.0,314.0 L372.1,312.7 L374.0,311.5 L376.0,310.3 L377.9,309.2 L380.0,308.0 L382.3,306.8 L384.7,305.5 L387.1,304.3 L389.6,303.1 L392.0,302.0 L394.3,301.0 L396.6,300.1 L398.9,299.2 L401.3,298.5Z" fill="#f6b198"/>
<path d="M404.2,299.4 L401.7,299.9 L399.3,300.6 L397.1,301.4 L394.9,302.3 L392.6,303.3 L390.2,304.3 L387.7,305.5 L385.3,306.7 L382.9,308.0 L380.7,309.2 L378.6,310.4 L376.7,311.5 L374.8,312.6 L372.8,313.9 L370.8,315.2 L368.5,316.7 L366.2,318.3 L366.1,318.3 L363.7,320.1 L363.7,320.1 L361.2,321.7 L361.1,321.8 L358.7,323.2 L358.6,323.3 L356.1,324.4 L356.0,324.5 L353.5,325.4 L353.5,325.4 L351.0,326.3 L348.7,327.2 L346.7,328.2 L344.9,329.4 L343.2,330.6 L341.8,331.9 L340.4,333.3 L339.1,334.8 L337.9,336.6 L336.9,338.4 L335.9,340.4 L335.1,342.5 L334.3,344.4 L333.8,346.4 L333.4,348.3 L333.0,350.4 L332.7,352.3 L332.7,352.4 L332.4,354.3 L332.4,354.3 L332.0,356.0 L332.0,356.1 L331.6,357.7 L331.6,357.7 L331.2,359.2 L331.2,359.2 L330.8,360.8 L330.4,362.3 L330.3,362.4 L329.9,364.0 L329.9,364.0 L329.4,365.5 L328.9,367.0 L328.6,368.5 L328.4,370.1 L328.4,371.8 L328.6,373.6 L328.8,375.6 L329.1,377.6 L329.1,377.7 L329.4,379.8 L329.4,379.9 L329.6,382.1 L329.8,384.5 L329.8,384.5 L330.1,387.0 L330.1,387.0 L330.3,389.5 L330.3,389.5 L330.4,391.9 L330.4,392.0 L330.4,394.4 L330.4,394.4 L330.4,396.8 L330.4,396.8 L330.3,399.2 L330.3,401.6 L330.4,403.9 L330.6,406.3 L330.9,408.7 L331.3,411.1 L331.8,413.4 L332.4,415.6 L333.0,417.7 L333.7,419.7 L334.5,421.7 L335.4,423.6 L336.2,425.4 L337.1,427.1 L338.1,428.7 L339.1,430.3 L340.1,431.7 L341.1,433.1 L342.2,434.5 L343.3,435.7 L344.4,436.8 L345.6,437.9 L346.8,438.8 L348.1,439.7 L349.6,440.4 L351.3,441.1 L351.3,441.1 L352.9,441.8 L353.0,441.9 L354.7,442.8 L354.8,442.8 L356.4,443.9 L356.4,443.9 L358.0,445.0 L358.0,445.0 L359.6,446.2 L359.7,446.3 L361.3,447.5 L361.3,447.6 L362.9,448.9 L363.0,449.0 L364.5,450.5 L364.6,450.5 L366.1,452.2 L366.1,452.2 L367.7,453.9 L369.2,455.5 L370.9,456.9 L372.6,458.2 L374.5,459.5 L376.5,460.6 L378.5,461.7 L380.6,462.7 L382.8,463.6 L385.1,464.5 L387.5,465.2 L390.0,466.0 L392.4,466.7 L392.4,466.7 L394.7,467.4 L394.8,467.4 L397.0,468.1 L399.3,468.7 L401.6,469.2 L404.2,469.6 L407.1,469.9 L410.4,470.1 L413.7,470.1 L416.9,470.0 L419.7,469.6 L422.3,469.0 L424.6,468.0 L426.9,466.9 L429.2,465.8 L429.2,465.7 L431.4,464.7 L431.5,464.7 L433.6,463.9 L433.6,463.8 L435.6,463.1 L437.6,462.3 L439.5,461.6 L441.4,460.7 L443.4,459.8 L445.4,458.9 L447.4,457.9 L449.3,456.8 L451.3,455.8 L453.2,454.7 L455.2,453.4 L457.1,452.2 L457.1,452.2 L459.1,451.0 L459.2,450.9 L461.3,449.8 L461.4,449.7 L463.7,448.7 L463.7,448.6 L466.1,447.6 L466.1,447.6 L468.6,446.6 L468.6,446.6 L471.1,445.6 L471.1,445.6 L473.5,444.7 L473.6,444.7 L476.0,443.8 L476.1,443.8 L478.6,443.1 L478.6,443.1 L481.1,442.4 L483.4,441.6 L485.4,440.7 L487.2,439.8 L488.8,438.8 L490.3,437.7 L491.6,436.5 L492.9,435.1 L494.2,433.5 L495.5,431.6 L496.6,429.7 L497.7,427.6 L498.7,425.4 L499.6,423.2 L500.4,420.9 L501.2,418.5 L501.9,416.0 L501.9,416.0 L502.7,413.6 L502.7,413.5 L503.5,411.1 L503.5,411.1 L504.4,408.7 L505.3,406.3 L506.0,404.0 L506.6,401.7 L507.1,399.4 L507.4,397.0 L507.6,394.7 L507.7,392.4 L507.6,390.1 L507.3,387.8 L506.7,385.5 L506.0,383.1 L505.3,380.7 L505.2,380.6 L504.6,378.4 L504.6,378.3 L504.2,376.2 L504.2,376.1 L503.8,374.1 L503.8,374.1 L503.4,372.2 L503.1,370.3 L502.6,368.3 L502.1,366.3 L501.6,364.4 L501.1,362.4 L500.4,360.5 L499.7,358.5 L498.9,356.5 L497.9,354.5 L496.9,352.5 L495.9,350.6 L494.8,348.7 L493.7,347.1 L492.6,345.6 L491.4,344.1 L491.4,344.1 L490.1,342.6 L490.1,342.5 L488.9,340.8 L488.8,340.8 L487.6,338.8 L487.6,338.8 L486.3,336.7 L486.3,336.7 L485.0,334.5 L485.0,334.5 L483.8,332.5 L483.8,332.5 L482.8,330.7 L482.8,330.6 L482.0,329.1 L482.0,329.1 L481.4,327.8 L481.4,327.8 L480.9,326.6 L480.5,325.7 L479.9,324.9 L479.2,324.1 L478.4,323.5 L477.5,322.8 L476.4,322.0 L476.4,322.0 L475.2,321.1 L475.1,321.1 L473.8,320.1 L472.4,319.0 L470.8,317.8 L469.1,316.5 L467.2,315.1 L465.1,313.6 L465.1,313.6 L462.8,312.0 L460.4,310.3 L457.9,308.7 L455.3,307.2 L452.8,305.9 L450.1,304.7 L447.3,303.6 L444.5,302.6 L441.6,301.8 L438.5,301.1 L435.1,300.5 L431.6,300.1 L428.4,299.7 L428.4,299.7 L425.8,299.4 L425.8,299.4 L424.1,299.2 L423.2,299.1 L422.6,299.0 L421.7,299.0 L420.0,299.0 L420.0,299.0 L417.4,299.0 L417.4,299.0 L414.1,298.9 L410.6,298.9 L407.2,299.1Z" fill="#fbd2c2"/>
<path d="M404.4,300.5 L401.9,301.0 L399.7,301.6 L397.5,302.4 L395.3,303.3 L393.0,304.3 L390.6,305.3 L388.2,306.5 L385.8,307.7 L383.5,309.0 L381.2,310.2 L379.1,311.3 L377.2,312.5 L375.4,313.6 L373.4,314.8 L371.4,316.1 L369.1,317.6 L366.8,319.2 L366.8,319.2 L364.3,321.0 L364.3,321.0 L361.8,322.6 L361.7,322.7 L359.3,324.2 L359.1,324.3 L356.6,325.4 L356.4,325.5 L353.9,326.5 L353.8,326.5 L351.4,327.3 L349.2,328.2 L347.2,329.2 L345.5,330.3 L343.9,331.5 L342.5,332.7 L341.2,334.0 L340.0,335.5 L338.9,337.1 L337.9,338.9 L336.9,340.9 L336.1,342.9 L335.4,344.8 L334.8,346.6 L334.4,348.5 L334.1,350.5 L333.8,352.5 L333.8,352.6 L333.5,354.5 L333.4,354.6 L333.0,356.3 L333.0,356.3 L332.6,357.9 L332.6,358.0 L332.2,359.5 L332.2,359.5 L331.8,361.1 L331.4,362.6 L331.4,362.7 L331.0,364.3 L330.9,364.3 L330.4,365.9 L330.0,367.3 L329.7,368.7 L329.5,370.1 L329.5,371.7 L329.7,373.5 L329.9,375.4 L330.2,377.5 L330.2,377.6 L330.5,379.7 L330.5,379.8 L330.7,382.0 L330.9,384.4 L330.9,384.4 L331.2,386.9 L331.2,386.9 L331.4,389.4 L331.4,389.4 L331.5,391.9 L331.5,392.0 L331.5,394.4 L331.5,394.5 L331.5,396.9 L331.5,396.9 L331.4,399.2 L331.4,401.6 L331.5,403.8 L331.7,406.1 L332.0,408.5 L332.4,410.9 L332.9,413.2 L333.4,415.3 L334.0,417.4 L334.7,419.3 L335.5,421.2 L336.4,423.1 L337.2,424.9 L338.1,426.6 L339.0,428.2 L340.0,429.7 L341.0,431.1 L342.0,432.5 L343.0,433.7 L344.1,434.9 L345.1,436.0 L346.3,437.0 L347.4,437.9 L348.7,438.7 L350.1,439.4 L351.7,440.1 L351.7,440.1 L353.4,440.8 L353.6,440.9 L355.2,441.8 L355.4,441.9 L357.0,442.9 L357.0,443.0 L358.6,444.1 L358.7,444.2 L360.3,445.4 L360.4,445.4 L362.0,446.7 L362.0,446.7 L363.6,448.1 L363.7,448.2 L365.3,449.7 L365.4,449.8 L366.9,451.4 L366.9,451.5 L368.5,453.1 L370.0,454.7 L371.6,456.0 L373.3,457.3 L375.1,458.5 L377.0,459.7 L379.0,460.7 L381.0,461.7 L383.2,462.6 L385.5,463.4 L387.8,464.2 L390.3,464.9 L392.7,465.6 L392.7,465.6 L395.1,466.3 L395.1,466.3 L397.3,467.0 L399.5,467.6 L401.8,468.1 L404.3,468.5 L407.2,468.8 L410.4,469.0 L413.7,469.0 L416.8,468.9 L419.5,468.5 L421.9,467.9 L424.2,467.0 L426.4,465.9 L428.7,464.8 L428.7,464.7 L431.0,463.7 L431.1,463.7 L433.2,462.8 L433.2,462.8 L435.2,462.0 L437.2,461.3 L439.1,460.5 L441.0,459.7 L442.9,458.8 L444.9,457.9 L446.9,456.9 L448.8,455.9 L450.8,454.8 L452.7,453.7 L454.6,452.5 L456.5,451.3 L456.6,451.2 L458.6,450.0 L458.7,450.0 L460.8,448.8 L460.9,448.7 L463.2,447.7 L463.3,447.6 L465.7,446.6 L465.7,446.6 L468.2,445.6 L468.2,445.6 L470.7,444.6 L470.7,444.6 L473.1,443.7 L473.2,443.6 L475.7,442.8 L475.8,442.8 L478.3,442.0 L478.3,442.0 L480.7,441.3 L483.0,440.6 L484.9,439.7 L486.6,438.8 L488.2,437.9 L489.6,436.8 L490.8,435.7 L492.1,434.4 L493.3,432.8 L494.5,431.1 L495.7,429.1 L496.7,427.1 L497.7,425.0 L498.6,422.8 L499.4,420.6 L500.1,418.2 L500.8,415.7 L500.8,415.7 L501.6,413.2 L501.6,413.2 L502.5,410.8 L502.5,410.7 L503.4,408.3 L504.3,406.0 L505.0,403.7 L505.6,401.5 L506.0,399.2 L506.3,396.9 L506.5,394.6 L506.6,392.4 L506.5,390.2 L506.2,388.0 L505.6,385.8 L504.9,383.4 L504.2,381.0 L504.2,380.9 L503.6,378.6 L503.6,378.5 L503.1,376.4 L503.1,376.3 L502.7,374.3 L502.7,374.3 L502.4,372.4 L502.0,370.5 L501.6,368.6 L501.1,366.6 L500.6,364.7 L500.0,362.7 L499.4,360.8 L498.7,358.9 L497.9,357.0 L496.9,355.0 L495.9,353.0 L494.9,351.1 L493.9,349.3 L492.8,347.8 L491.7,346.3 L490.5,344.8 L490.5,344.8 L489.3,343.3 L489.2,343.2 L488.0,341.5 L487.9,341.4 L486.7,339.4 L486.6,339.4 L485.3,337.3 L485.3,337.2 L484.0,335.1 L484.0,335.1 L482.8,333.0 L482.8,333.0 L481.8,331.2 L481.8,331.1 L481.0,329.6 L480.9,329.5 L480.4,328.2 L480.4,328.2 L479.9,327.1 L479.5,326.3 L479.0,325.6 L478.4,324.9 L477.7,324.3 L476.9,323.7 L475.8,323.0 L475.7,322.9 L474.5,322.0 L474.5,322.0 L473.1,320.9 L471.7,319.8 L470.1,318.6 L468.4,317.4 L466.5,316.0 L464.4,314.5 L464.4,314.5 L462.1,312.9 L459.7,311.2 L457.3,309.6 L454.8,308.2 L452.3,306.9 L449.6,305.7 L447.0,304.6 L444.2,303.7 L441.4,302.8 L438.3,302.1 L434.9,301.6 L431.5,301.1 L428.3,300.8 L428.3,300.8 L425.7,300.5 L425.7,300.5 L424.0,300.3 L423.1,300.1 L422.5,300.1 L421.7,300.1 L420.0,300.1 L420.0,300.1 L417.3,300.1 L417.3,300.1 L414.1,300.0 L410.6,300.0 L407.3,300.2Z" fill="#f4aa90"/>
<path d="M404.6,301.8 L402.3,302.2 L400.1,302.9 L398.0,303.6 L395.8,304.5 L393.5,305.5 L391.2,306.5 L388.8,307.7 L386.4,308.9 L384.1,310.1 L381.8,311.3 L379.8,312.5 L377.9,313.6 L376.0,314.7 L374.1,315.9 L372.1,317.2 L369.9,318.7 L367.5,320.3 L367.5,320.3 L365.1,322.0 L365.0,322.1 L362.5,323.7 L362.4,323.8 L359.9,325.3 L359.6,325.4 L357.2,326.6 L356.9,326.7 L354.4,327.7 L354.3,327.7 L351.8,328.6 L349.7,329.4 L347.9,330.3 L346.3,331.3 L344.8,332.5 L343.4,333.6 L342.2,334.9 L341.0,336.3 L340.0,337.8 L339.0,339.5 L338.1,341.4 L337.3,343.3 L336.6,345.2 L336.1,346.9 L335.7,348.8 L335.4,350.7 L335.1,352.7 L335.1,352.8 L334.7,354.7 L334.7,354.9 L334.3,356.6 L334.3,356.6 L333.9,358.3 L333.9,358.3 L333.5,359.8 L333.5,359.9 L333.1,361.4 L332.7,362.9 L332.7,363.0 L332.2,364.6 L332.2,364.7 L331.7,366.2 L331.3,367.6 L331.0,368.9 L330.8,370.2 L330.8,371.7 L331.0,373.3 L331.2,375.2 L331.5,377.3 L331.5,377.4 L331.8,379.6 L331.8,379.6 L332.0,381.9 L332.2,384.3 L332.2,384.3 L332.5,386.8 L332.5,386.8 L332.7,389.3 L332.7,389.4 L332.8,391.8 L332.8,391.9 L332.8,394.3 L332.8,394.5 L332.8,396.9 L332.8,396.9 L332.7,399.3 L332.7,401.5 L332.8,403.7 L333.0,406.0 L333.3,408.3 L333.7,410.7 L334.1,412.9 L334.7,415.0 L335.3,417.0 L336.0,418.9 L336.7,420.7 L337.5,422.5 L338.4,424.3 L339.3,425.9 L340.1,427.5 L341.1,429.0 L342.0,430.3 L343.0,431.7 L344.0,432.9 L345.0,434.1 L346.0,435.1 L347.1,436.0 L348.2,436.9 L349.3,437.5 L350.6,438.2 L352.2,438.9 L352.3,438.9 L353.9,439.6 L354.2,439.8 L355.8,440.7 L356.1,440.8 L357.7,441.9 L357.8,441.9 L359.4,443.0 L359.5,443.1 L361.1,444.3 L361.2,444.4 L362.8,445.7 L362.9,445.7 L364.5,447.1 L364.6,447.3 L366.2,448.8 L366.3,448.9 L367.9,450.6 L367.9,450.6 L369.4,452.2 L370.9,453.7 L372.4,455.0 L374.0,456.2 L375.8,457.4 L377.6,458.5 L379.6,459.6 L381.6,460.5 L383.6,461.4 L385.9,462.2 L388.2,462.9 L390.6,463.6 L393.1,464.3 L393.1,464.4 L395.4,465.1 L395.5,465.1 L397.7,465.8 L399.8,466.4 L402.0,466.9 L404.4,467.2 L407.3,467.5 L410.4,467.7 L413.6,467.7 L416.7,467.6 L419.3,467.3 L421.5,466.7 L423.6,465.8 L425.8,464.8 L428.1,463.6 L428.2,463.6 L430.4,462.5 L430.6,462.5 L432.7,461.6 L432.8,461.6 L434.8,460.8 L436.7,460.1 L438.6,459.3 L440.5,458.5 L442.4,457.6 L444.3,456.7 L446.3,455.7 L448.2,454.7 L450.1,453.7 L452.0,452.6 L453.9,451.4 L455.8,450.2 L455.9,450.1 L457.9,448.9 L458.1,448.8 L460.2,447.7 L460.4,447.6 L462.6,446.5 L462.8,446.4 L465.1,445.4 L465.2,445.4 L467.7,444.4 L467.7,444.3 L470.2,443.4 L470.2,443.4 L472.7,442.4 L472.8,442.4 L475.2,441.6 L475.4,441.5 L477.9,440.8 L477.9,440.8 L480.4,440.1 L482.5,439.4 L484.4,438.6 L486.0,437.7 L487.4,436.8 L488.7,435.8 L489.9,434.8 L491.1,433.5 L492.3,432.0 L493.4,430.4 L494.5,428.5 L495.6,426.5 L496.5,424.5 L497.4,422.4 L498.1,420.2 L498.9,417.8 L499.6,415.3 L499.6,415.3 L500.4,412.9 L500.4,412.7 L501.3,410.3 L501.3,410.3 L502.2,407.9 L503.0,405.6 L503.7,403.3 L504.3,401.2 L504.7,399.0 L505.0,396.7 L505.2,394.6 L505.3,392.4 L505.2,390.4 L504.9,388.3 L504.4,386.1 L503.7,383.7 L503.0,381.4 L502.9,381.2 L502.3,379.0 L502.3,378.8 L501.8,376.7 L501.8,376.6 L501.4,374.6 L501.4,374.5 L501.1,372.6 L500.7,370.8 L500.3,368.9 L499.8,366.9 L499.3,365.0 L498.8,363.1 L498.2,361.2 L497.5,359.4 L496.7,357.5 L495.8,355.5 L494.8,353.6 L493.8,351.7 L492.8,350.0 L491.8,348.5 L490.7,347.1 L489.5,345.6 L489.5,345.6 L488.2,344.1 L488.1,343.9 L486.9,342.2 L486.8,342.1 L485.6,340.1 L485.5,340.1 L484.2,337.9 L484.2,337.9 L482.9,335.7 L482.9,335.7 L481.7,333.7 L481.7,333.7 L480.7,331.9 L480.6,331.7 L479.9,330.2 L479.8,330.0 L479.2,328.7 L479.2,328.7 L478.7,327.6 L478.4,326.9 L478.0,326.4 L477.5,325.9 L476.9,325.3 L476.1,324.8 L475.1,324.0 L475.0,324.0 L473.8,323.1 L473.7,323.0 L472.3,322.0 L470.9,320.9 L469.3,319.7 L467.7,318.4 L465.8,317.1 L463.7,315.6 L463.7,315.6 L461.4,313.9 L459.0,312.3 L456.6,310.7 L454.2,309.4 L451.7,308.1 L449.1,306.9 L446.5,305.8 L443.8,304.9 L441.0,304.1 L438.1,303.4 L434.7,302.9 L431.3,302.4 L428.2,302.1 L428.2,302.1 L425.6,301.8 L425.5,301.8 L423.8,301.5 L423.0,301.4 L422.5,301.4 L421.7,301.4 L420.0,301.4 L420.0,301.4 L417.3,301.4 L417.3,301.4 L414.1,301.3 L410.7,301.3 L407.4,301.5Z" fill="#f1f4f8"/>
<path d="M405.0,304.4 L402.9,304.9 L400.9,305.4 L399.0,306.1 L396.8,307.0 L394.6,308.0 L392.3,309.0 L390.0,310.1 L387.7,311.3 L385.3,312.5 L383.1,313.7 L381.1,314.8 L379.3,315.9 L377.4,317.0 L375.6,318.2 L373.5,319.4 L371.4,320.9 L369.1,322.5 L369.1,322.5 L366.6,324.2 L366.5,324.3 L364.0,326.0 L363.7,326.2 L361.3,327.6 L360.8,327.9 L358.3,329.0 L357.8,329.2 L355.3,330.2 L355.2,330.3 L352.8,331.1 L350.8,331.9 L349.2,332.7 L347.8,333.6 L346.5,334.6 L345.3,335.6 L344.2,336.7 L343.2,337.9 L342.3,339.3 L341.4,340.8 L340.6,342.5 L339.8,344.3 L339.2,346.0 L338.7,347.6 L338.4,349.3 L338.1,351.2 L337.8,353.1 L337.7,353.3 L337.4,355.2 L337.3,355.5 L336.9,357.2 L336.9,357.3 L336.5,358.9 L336.5,359.0 L336.1,360.5 L336.1,360.5 L335.7,362.1 L335.3,363.6 L335.2,363.8 L334.8,365.4 L334.7,365.6 L334.3,367.0 L333.9,368.3 L333.6,369.4 L333.5,370.4 L333.5,371.5 L333.6,373.0 L333.9,374.9 L334.2,376.9 L334.2,377.1 L334.5,379.3 L334.5,379.4 L334.7,381.6 L334.9,384.0 L334.9,384.1 L335.1,386.5 L335.2,386.6 L335.3,389.1 L335.4,389.2 L335.5,391.6 L335.5,391.9 L335.5,394.3 L335.5,394.6 L335.5,397.0 L335.5,397.0 L335.4,399.3 L335.4,401.5 L335.5,403.5 L335.7,405.7 L336.0,408.0 L336.4,410.2 L336.8,412.3 L337.3,414.3 L337.8,416.1 L338.5,417.9 L339.2,419.7 L340.0,421.4 L340.8,423.1 L341.6,424.6 L342.5,426.1 L343.3,427.5 L344.2,428.8 L345.1,430.0 L346.1,431.2 L347.0,432.2 L347.9,433.1 L348.8,434.0 L349.7,434.6 L350.6,435.2 L351.7,435.7 L353.3,436.4 L353.4,436.4 L355.0,437.2 L355.5,437.4 L357.1,438.3 L357.5,438.6 L359.1,439.6 L359.3,439.7 L360.9,440.8 L361.1,441.0 L362.7,442.2 L362.9,442.3 L364.5,443.6 L364.6,443.7 L366.2,445.0 L366.5,445.3 L368.1,446.8 L368.3,447.1 L369.9,448.7 L369.9,448.8 L371.4,450.4 L372.7,451.8 L374.1,452.9 L375.6,454.0 L377.2,455.1 L379.0,456.2 L380.8,457.2 L382.7,458.1 L384.6,458.9 L386.7,459.6 L389.0,460.4 L391.4,461.1 L393.8,461.8 L393.9,461.8 L396.2,462.5 L396.3,462.5 L398.5,463.2 L400.5,463.8 L402.5,464.2 L404.8,464.5 L407.5,464.8 L410.5,465.0 L413.6,465.0 L416.5,464.9 L418.8,464.6 L420.7,464.1 L422.6,463.4 L424.6,462.4 L426.8,461.2 L427.1,461.1 L429.3,460.1 L429.6,460.0 L431.7,459.1 L431.8,459.1 L433.8,458.3 L435.7,457.6 L437.5,456.8 L439.4,456.1 L441.2,455.2 L443.1,454.3 L445.0,453.3 L447.0,452.3 L448.8,451.3 L450.6,450.3 L452.4,449.1 L454.4,447.9 L454.5,447.8 L456.5,446.6 L456.8,446.4 L458.9,445.3 L459.2,445.1 L461.5,444.0 L461.7,444.0 L464.1,442.9 L464.2,442.9 L466.6,441.9 L466.7,441.8 L469.2,440.9 L469.3,440.8 L471.7,439.9 L471.9,439.8 L474.4,439.0 L474.6,438.9 L477.2,438.2 L477.2,438.2 L479.6,437.5 L481.6,436.8 L483.2,436.1 L484.6,435.4 L485.9,434.6 L487.0,433.7 L488.1,432.8 L489.1,431.7 L490.1,430.4 L491.1,428.9 L492.2,427.2 L493.1,425.3 L494.1,423.4 L494.8,421.4 L495.6,419.3 L496.3,417.0 L497.0,414.6 L497.0,414.5 L497.8,412.0 L497.9,411.8 L498.7,409.4 L498.8,409.3 L499.6,407.0 L500.5,404.7 L501.1,402.6 L501.7,400.6 L502.0,398.5 L502.4,396.4 L502.5,394.4 L502.6,392.4 L502.5,390.6 L502.3,388.8 L501.8,386.8 L501.1,384.5 L500.4,382.2 L500.3,381.9 L499.7,379.7 L499.6,379.3 L499.2,377.2 L499.2,377.1 L498.8,375.0 L498.8,375.0 L498.4,373.1 L498.1,371.3 L497.7,369.5 L497.2,367.6 L496.7,365.7 L496.2,363.9 L495.6,362.1 L495.0,360.4 L494.2,358.6 L493.3,356.7 L492.4,354.9 L491.4,353.1 L490.5,351.5 L489.6,350.1 L488.6,348.8 L487.4,347.4 L487.4,347.3 L486.1,345.7 L485.9,345.5 L484.7,343.8 L484.5,343.5 L483.3,341.6 L483.2,341.5 L481.9,339.4 L481.9,339.3 L480.6,337.1 L480.6,337.1 L479.4,335.0 L479.4,335.0 L478.3,333.2 L478.2,333.0 L477.5,331.5 L477.3,331.1 L476.7,329.8 L476.7,329.7 L476.3,328.8 L476.0,328.3 L475.9,328.0 L475.7,327.8 L475.3,327.5 L474.6,327.0 L473.5,326.2 L473.4,326.1 L472.2,325.2 L472.0,325.1 L470.7,324.1 L469.3,323.0 L467.7,321.8 L466.1,320.6 L464.2,319.3 L462.1,317.8 L462.1,317.8 L459.8,316.1 L457.5,314.5 L455.2,313.0 L452.9,311.7 L450.6,310.5 L448.1,309.4 L445.5,308.4 L443.0,307.5 L440.4,306.7 L437.5,306.1 L434.3,305.5 L431.0,305.1 L427.9,304.8 L427.8,304.8 L425.3,304.5 L425.2,304.4 L423.5,304.2 L422.7,304.1 L422.4,304.1 L421.7,304.1 L420.0,304.1 L419.9,304.1 L417.3,304.1 L417.3,304.1 L414.1,304.0 L410.7,304.0 L407.6,304.2Z" fill="#e7edf4" filter="url(#blur3)"/>
<path d="M372.2,325.6 C373.1,323.6 375.6,321.0 378.1,319.8 C380.6,318.7 384.6,318.1 387.1,318.8 C389.7,319.4 392.3,321.9 393.4,323.8 C394.5,325.7 394.8,328.3 393.8,330.1 C392.7,331.9 389.9,333.6 387.1,334.6 C384.3,335.6 379.7,336.5 377.2,336.0 C374.7,335.6 373.0,333.6 372.2,331.9 C371.3,330.2 371.2,327.6 372.2,325.6Z" fill="url(#cg)" stroke="#c4664b" stroke-width="0.6"/>
<path d="M344.4,338.2 C345.0,336.1 347.7,333.9 350.2,332.8 C352.7,331.8 356.5,331.4 359.2,331.9 C361.9,332.3 364.4,333.4 366.4,335.5 C368.4,337.6 370.8,342.4 371.4,344.5 C372.0,346.6 372.3,347.5 370.0,348.1 C367.7,348.7 361.3,348.6 357.4,348.1 C353.5,347.7 348.8,347.0 346.6,345.4 C344.4,343.8 343.8,340.3 344.4,338.2Z" fill="url(#cg)" stroke="#c4664b" stroke-width="0.6"/>
<path d="M380.4,348.6 C381.2,347.1 384.3,344.2 387.1,342.7 C389.9,341.2 394.0,339.9 397.0,339.6 C400.0,339.3 403.0,339.5 405.1,340.9 C407.2,342.3 409.1,345.9 409.6,348.1 C410.1,350.4 410.6,353.3 408.2,354.4 C405.8,355.5 399.5,355.2 395.2,354.8 C390.9,354.3 385.1,352.7 382.6,351.7 C380.1,350.7 379.7,350.1 380.4,348.6Z" fill="url(#cg)" stroke="#c4664b" stroke-width="0.6"/>
<path d="M337.2,358.9 C338.2,357.4 340.2,355.0 343.0,354.4 C345.8,353.8 350.1,354.6 353.8,355.3 C357.6,356.0 363.6,357.0 365.5,358.4 C367.4,359.7 366.6,362.1 365.0,363.4 C363.3,364.7 359.4,365.7 355.6,366.1 C351.8,366.6 345.2,366.6 342.1,366.1 C339.0,365.7 338.1,364.6 337.2,363.4 C336.4,362.2 336.3,360.4 337.2,358.9Z" fill="url(#cg)" stroke="#c4664b" stroke-width="0.6"/>
<path d="M375.0,364.3 C376.2,362.1 378.6,361.2 382.6,361.2 C386.6,361.2 396.4,362.7 398.8,364.3 C401.2,365.9 398.2,368.3 397.0,370.6 C395.8,372.9 394.0,376.7 391.6,378.2 C389.2,379.6 385.2,379.9 382.6,379.2 C380.0,378.6 377.0,376.7 375.8,374.2 C374.5,371.7 373.9,366.5 375.0,364.3Z" fill="url(#cg)" stroke="#c4664b" stroke-width="0.6"/>
<path d="M396.8,312.1 C397.1,310.2 399.5,307.9 402.2,306.7 C404.9,305.5 409.2,305.0 413.0,304.9 C416.8,304.8 422.3,305.0 424.7,306.2 C427.1,307.4 427.5,310.1 427.4,312.1 C427.2,314.1 426.2,317.0 423.8,318.4 C421.4,319.8 416.9,320.2 413.0,320.2 C409.1,320.2 403.1,319.8 400.4,318.4 C397.7,317.0 396.5,314.1 396.8,312.1Z" fill="url(#cg)" stroke="#c4664b" stroke-width="0.6"/>
<path d="M433.7,314.8 C434.4,312.7 435.6,309.7 437.3,308.5 C439.0,307.3 441.4,307.2 443.6,307.6 C445.9,308.1 449.1,309.2 450.8,311.2 C452.5,313.1 454.0,316.6 454.0,319.3 C454.0,322.0 452.8,325.4 450.8,327.4 C448.8,329.3 444.4,331.0 441.8,331.0 C439.2,331.0 436.9,329.0 435.5,327.4 C434.1,325.8 433.5,323.2 433.2,321.1 C432.9,319.0 433.0,316.9 433.7,314.8Z" fill="url(#cg)" stroke="#c4664b" stroke-width="0.6"/>
<path d="M409.4,331.0 C409.8,329.3 412.4,327.8 414.8,327.4 C417.2,326.9 421.2,327.4 423.8,328.3 C426.4,329.2 429.2,331.2 430.1,332.8 C431.0,334.4 430.9,337.1 429.2,338.2 C427.5,339.3 423.0,339.7 420.2,339.6 C417.4,339.6 413.9,339.3 412.1,337.8 C410.3,336.4 408.9,332.7 409.4,331.0Z" fill="url(#cg)" stroke="#c4664b" stroke-width="0.6"/>
<path d="M457.1,333.7 C457.6,330.7 459.7,327.9 461.6,326.5 C463.6,325.1 466.4,324.6 468.8,325.2 C471.2,325.8 474.5,327.9 476.0,330.1 C477.5,332.3 478.1,335.4 477.8,338.2 C477.5,341.0 476.3,345.4 474.2,347.2 C472.1,349.0 467.8,349.4 465.2,349.0 C462.6,348.6 460.2,347.1 458.9,344.5 C457.5,341.9 456.7,336.7 457.1,333.7Z" fill="url(#cg)" stroke="#c4664b" stroke-width="0.6"/>
<path d="M422.0,354.4 C422.3,352.1 423.8,347.6 426.5,345.4 C429.2,343.1 434.8,341.6 438.2,340.9 C441.6,340.2 445.2,340.7 447.2,341.4 C449.1,342.2 450.5,344.1 449.9,345.4 C449.3,346.7 446.8,347.6 443.6,349.0 C440.5,350.4 434.1,351.9 431.0,353.5 C427.9,355.1 426.2,358.8 424.7,358.9 C423.2,359.0 421.7,356.6 422.0,354.4Z" fill="url(#cg)" stroke="#c4664b" stroke-width="0.6"/>
<path d="M435.5,362.5 C436.2,360.2 438.9,358.2 441.8,357.1 C444.7,356.0 449.5,355.5 452.6,355.8 C455.8,356.1 459.1,357.0 460.7,358.9 C462.3,360.8 462.6,364.4 462.0,367.0 C461.4,369.6 459.9,372.8 457.1,374.2 C454.3,375.6 448.7,376.2 445.4,375.6 C442.1,375.0 438.9,372.8 437.3,370.6 C435.7,368.4 434.8,364.8 435.5,362.5Z" fill="url(#cg)" stroke="#c4664b" stroke-width="0.6"/>
<path d="M470.6,364.3 C471.4,361.9 473.6,357.9 476.0,356.2 C478.4,354.5 482.1,354.1 485.0,354.4 C487.9,354.7 491.6,355.9 493.1,358.0 C494.6,360.1 494.8,364.4 494.0,367.0 C493.2,369.6 491.3,372.2 488.6,373.3 C485.9,374.4 480.7,374.3 477.8,373.8 C474.9,373.4 472.7,372.2 471.5,370.6 C470.3,369.0 469.9,366.7 470.6,364.3Z" fill="url(#cg)" stroke="#c4664b" stroke-width="0.6"/>
<path d="M335.0,380.0 C336.2,378.7 338.0,377.7 343.0,377.0 C348.0,376.3 360.4,375.5 365.0,376.0 C369.6,376.5 370.1,378.5 370.6,380.0 C371.1,381.5 370.6,383.8 368.0,385.0 C365.4,386.2 359.5,386.9 355.0,387.4 C350.5,387.9 344.2,388.4 341.0,388.0 C337.8,387.6 337.0,386.3 336.0,385.0 C335.0,383.7 333.8,381.3 335.0,380.0Z" fill="url(#cg)" stroke="#c4664b" stroke-width="0.6"/>
<path d="M369.0,395.0 C370.0,393.8 371.7,391.8 375.0,391.0 C378.3,390.2 385.5,389.5 389.0,390.0 C392.5,390.5 395.0,392.3 396.0,394.0 C397.0,395.7 396.8,398.7 395.0,400.0 C393.2,401.3 388.7,401.8 385.0,402.0 C381.3,402.2 375.7,401.7 373.0,401.0 C370.3,400.3 369.7,399.0 369.0,398.0 C368.3,397.0 368.0,396.2 369.0,395.0Z" fill="url(#cg)" stroke="#c4664b" stroke-width="0.6"/>
<path d="M340.0,398.0 C340.7,395.8 341.0,396.3 344.0,396.0 C347.0,395.7 355.0,395.2 358.0,396.0 C361.0,396.8 361.2,398.5 362.0,401.0 C362.8,403.5 363.3,408.8 363.0,411.0 C362.7,413.2 363.0,413.7 360.0,414.0 C357.0,414.3 348.3,413.8 345.0,413.0 C341.7,412.2 340.8,411.5 340.0,409.0 C339.2,406.5 339.3,400.2 340.0,398.0Z" fill="url(#cg)" stroke="#c4664b" stroke-width="0.6"/>
<path d="M370.0,418.0 C370.8,416.3 372.2,414.1 375.0,413.0 C377.8,411.9 384.0,410.7 387.0,411.4 C390.0,412.1 392.2,414.7 393.0,417.0 C393.8,419.3 393.3,422.5 392.0,425.0 C390.7,427.5 387.5,431.0 385.0,432.0 C382.5,433.0 378.8,432.2 377.0,431.0 C375.2,429.8 375.2,426.3 374.0,425.0 C372.8,423.7 370.7,424.2 370.0,423.0 C369.3,421.8 369.2,419.7 370.0,418.0Z" fill="url(#cg)" stroke="#c4664b" stroke-width="0.6"/>
<path d="M344.0,425.0 C344.7,423.5 345.8,422.3 348.0,422.0 C350.2,421.7 354.5,421.8 357.0,423.0 C359.5,424.2 362.0,427.0 363.0,429.0 C364.0,431.0 364.3,433.7 363.0,435.0 C361.7,436.3 357.7,437.0 355.0,437.0 C352.3,437.0 348.8,436.0 347.0,435.0 C345.2,434.0 344.5,432.7 344.0,431.0 C343.5,429.3 343.3,426.5 344.0,425.0Z" fill="url(#cg)" stroke="#c4664b" stroke-width="0.6"/>
<path d="M396.0,434.0 C396.7,432.3 397.8,430.1 400.0,429.0 C402.2,427.9 406.2,427.1 409.0,427.4 C411.8,427.7 415.5,429.6 417.0,431.0 C418.5,432.4 419.0,434.3 418.0,436.0 C417.0,437.7 414.0,440.0 411.0,441.0 C408.0,442.0 402.5,442.3 400.0,442.0 C397.5,441.7 396.7,440.3 396.0,439.0 C395.3,437.7 395.3,435.7 396.0,434.0Z" fill="url(#cg)" stroke="#c4664b" stroke-width="0.6"/>
<path d="M365.0,448.0 C365.7,445.8 368.0,444.2 371.0,443.0 C374.0,441.8 379.7,440.5 383.0,441.0 C386.3,441.5 389.3,443.7 391.0,446.0 C392.7,448.3 393.3,452.2 393.0,455.0 C392.7,457.8 391.7,461.7 389.0,463.0 C386.3,464.3 380.7,464.2 377.0,463.0 C373.3,461.8 369.0,458.5 367.0,456.0 C365.0,453.5 364.3,450.2 365.0,448.0Z" fill="url(#cg)" stroke="#c4664b" stroke-width="0.6"/>
<path d="M401.0,459.0 C401.5,456.8 403.0,453.5 405.0,452.0 C407.0,450.5 410.5,449.7 413.0,450.0 C415.5,450.3 418.8,451.8 420.0,454.0 C421.2,456.2 421.2,461.2 420.0,463.0 C418.8,464.8 416.0,464.7 413.0,465.0 C410.0,465.3 404.0,466.0 402.0,465.0 C400.0,464.0 400.5,461.2 401.0,459.0Z" fill="url(#cg)" stroke="#c4664b" stroke-width="0.6"/>
<path d="M403.3,380.4 C403.9,377.6 406.1,373.6 408.8,371.6 C411.6,369.6 416.5,368.1 419.8,368.3 C423.1,368.5 426.6,370.5 428.6,372.7 C430.6,374.9 432.1,378.8 431.9,381.5 C431.7,384.2 430.2,387.6 427.5,389.2 C424.8,390.8 419.1,391.6 415.4,391.4 C411.7,391.2 407.5,389.9 405.5,388.1 C403.5,386.3 402.8,383.1 403.3,380.4Z" fill="url(#cg)" stroke="#c4664b" stroke-width="0.6"/>
<path d="M429.7,398.0 C430.1,395.1 432.8,391.2 435.2,389.2 C437.6,387.2 441.6,385.5 444.0,385.9 C446.4,386.3 448.5,388.8 449.5,391.4 C450.5,394.0 451.1,398.7 450.2,401.3 C449.2,403.9 446.9,405.9 444.0,406.8 C441.1,407.7 435.4,408.3 433.0,406.8 C430.6,405.3 429.3,400.9 429.7,398.0Z" fill="url(#cg)" stroke="#c4664b" stroke-width="0.6"/>
<path d="M459.4,384.8 C459.9,381.5 462.1,380.9 463.8,380.4 C465.5,379.8 468.0,379.7 469.3,381.5 C470.6,383.3 470.8,387.5 471.5,391.4 C472.2,395.2 473.9,401.5 473.7,404.6 C473.5,407.7 472.0,409.4 470.4,410.1 C468.8,410.8 465.4,410.6 463.8,409.0 C462.2,407.4 461.2,404.2 460.5,400.2 C459.8,396.2 458.8,388.1 459.4,384.8Z" fill="url(#cg)" stroke="#c4664b" stroke-width="0.6"/>
<path d="M480.3,391.4 C481.0,388.8 483.1,384.2 485.8,382.6 C488.6,381.0 493.9,380.8 496.8,381.5 C499.7,382.2 502.2,384.4 503.0,387.0 C503.7,389.6 502.6,394.1 501.2,396.9 C499.8,399.6 497.2,402.4 494.6,403.5 C492.0,404.6 488.0,404.4 485.8,403.5 C483.6,402.6 482.3,400.0 481.4,398.0 C480.5,396.0 479.6,394.0 480.3,391.4Z" fill="url(#cg)" stroke="#c4664b" stroke-width="0.6"/>
<path d="M407.7,407.9 C408.1,405.0 411.0,403.3 413.2,402.4 C415.4,401.5 418.7,401.3 420.9,402.4 C423.1,403.5 424.4,406.4 426.4,409.0 C428.4,411.6 432.3,415.2 433.0,417.8 C433.7,420.4 432.6,423.1 430.8,424.4 C429.0,425.7 425.3,426.2 422.0,425.5 C418.7,424.8 413.4,422.9 411.0,420.0 C408.6,417.1 407.3,410.8 407.7,407.9Z" fill="url(#cg)" stroke="#c4664b" stroke-width="0.6"/>
<path d="M441.8,421.1 C441.6,418.2 444.7,414.9 447.3,413.4 C449.9,411.9 454.4,411.4 457.2,412.3 C459.9,413.2 462.1,415.8 463.8,418.9 C465.5,422.0 466.4,427.5 467.1,431.0 C467.8,434.5 468.8,437.9 468.2,439.8 C467.6,441.7 465.6,442.6 463.8,442.4 C462.0,442.3 459.8,440.6 457.2,438.7 C454.6,436.8 451.0,433.9 448.4,431.0 C445.8,428.1 442.0,424.0 441.8,421.1Z" fill="url(#cg)" stroke="#c4664b" stroke-width="0.6"/>
<path d="M473.7,422.2 C474.6,419.4 476.8,415.7 479.2,414.5 C481.6,413.3 486.1,413.9 488.0,415.2 C489.9,416.4 490.6,419.6 490.6,422.2 C490.6,424.8 489.9,428.9 488.0,431.0 C486.1,433.1 481.6,435.0 479.2,435.0 C476.8,435.0 474.6,433.1 473.7,431.0 C472.8,428.9 472.8,424.9 473.7,422.2Z" fill="url(#cg)" stroke="#c4664b" stroke-width="0.6"/>
<path d="M426.4,443.1 C427.2,440.7 428.6,436.8 430.8,435.4 C433.0,434.0 436.9,434.0 439.6,435.0 C442.4,435.9 445.8,438.6 447.3,440.9 C448.8,443.2 449.3,446.4 448.4,448.6 C447.5,450.8 444.7,453.2 441.8,454.1 C438.9,455.0 433.4,454.8 430.8,454.1 C428.2,453.4 426.7,451.5 426.0,449.7 C425.2,447.9 425.6,445.5 426.4,443.1Z" fill="url(#cg)" stroke="#c4664b" stroke-width="0.6"/>
<text font-family="Liberation Sans, sans-serif" font-weight="bold" font-size="38.5" fill="#111"><tspan x="40" y="111" letter-spacing="0.9">Healthy</tspan><tspan x="40" y="158">muscle</tspan></text>
<text font-family="Liberation Sans, sans-serif" font-weight="bold" font-size="35" fill="#111"><tspan x="80" y="384">Atrophied</tspan><tspan x="80" y="426">muscle</tspan></text>
<path d="M732.89,146.49 A93.70,24.40 0 0 1 710.84,149.70 L710.84,171.20 A93.70,24.40 0 0 0 732.89,167.99 Z" fill="#6baede" stroke="#6baede" stroke-width="0.4"/>
<path d="M710.84,149.70 A93.70,24.40 0 0 1 706.39,150.13 L706.39,171.63 A93.70,24.40 0 0 0 710.84,171.20 Z" fill="#e3c98f" stroke="#e3c98f" stroke-width="0.4"/>
<path d="M770.20,127.00 A93.70,24.40 0 0 1 732.89,146.49 L732.89,167.99 A93.70,24.40 0 0 0 770.20,148.50 Z" fill="#dc5b40" stroke="#dc5b40" stroke-width="0.4"/>
<path d="M706.39,150.13 A93.70,24.40 0 0 1 582.80,127.00 L582.80,148.50 A93.70,24.40 0 0 0 706.39,171.63 Z" fill="#dc5b40" stroke="#dc5b40" stroke-width="0.4"/>
<path d="M676.50,127.00 L732.89,146.49 A93.70,24.40 0 0 1 710.84,149.70 Z" fill="#2f7dc0" stroke="#2f7dc0" stroke-width="0.4"/>
<path d="M676.50,127.00 L710.84,149.70 A93.70,24.40 0 0 1 706.39,150.13 Z" fill="#b2a277" stroke="#b2a277" stroke-width="0.4"/>
<path d="M676.50,127.00 L706.39,150.13 A93.70,24.40 0 1 1 732.89,146.49 Z" fill="#a94a33" stroke="#a94a33" stroke-width="0.4"/>
<path d="M777.10,346.20 A94.60,25.00 0 0 1 738.64,366.32 L738.64,386.32 A94.60,25.00 0 0 0 777.10,366.20 Z" fill="#6baede" stroke="#6baede" stroke-width="0.4"/>
<path d="M738.64,366.32 A94.60,25.00 0 0 1 712.20,369.94 L712.20,389.94 A94.60,25.00 0 0 0 738.64,386.32 Z" fill="#e3c98f" stroke="#e3c98f" stroke-width="0.4"/>
<path d="M712.20,369.94 A94.60,25.00 0 0 1 587.90,346.20 L587.90,366.20 A94.60,25.00 0 0 0 712.20,389.94 Z" fill="#dc5b40" stroke="#dc5b40" stroke-width="0.4"/>
<path d="M682.50,346.20 L757.05,330.81 A94.60,25.00 0 0 1 738.64,366.32 Z" fill="#2f7dc0" stroke="#2f7dc0" stroke-width="0.4"/>
<path d="M682.50,346.20 L738.64,366.32 A94.60,25.00 0 0 1 712.20,369.94 Z" fill="#b2a277" stroke="#b2a277" stroke-width="0.4"/>
<path d="M682.50,346.20 L712.20,369.94 A94.60,25.00 0 1 1 757.05,330.81 Z" fill="#a94a33" stroke="#a94a33" stroke-width="0.4"/>
<g fill="none" stroke="#333" stroke-width="1.2"><path d="M579,91 L625,114"/><path d="M709.3,165 V197.5 H666"/><path d="M722.5,160 V197.5 H732.5"/><path d="M586.3,314.3 L632.8,338.3"/><path d="M726.5,380 V417 H702.5"/><path d="M764.5,370 V417 H775"/></g>
<text font-family="Liberation Sans, sans-serif" font-size="18.5" fill="#222" text-anchor="middle" letter-spacing="1"><tspan x="551" y="62.4">95%</tspan><tspan x="551" y="86.0">Muscle</tspan><tspan x="553.5" y="109.6">fibers</tspan></text>
<text font-family="Liberation Sans, sans-serif" font-size="18.5" fill="#222" text-anchor="middle" letter-spacing="1"><tspan x="650" y="205.0">1%</tspan><tspan x="650" y="228.6">Adipose</tspan><tspan x="650" y="252.2">tissue</tspan></text>
<text font-family="Liberation Sans, sans-serif" font-size="18.5" fill="#222" text-anchor="middle" letter-spacing="1"><tspan x="751.5" y="205.0">4%</tspan><tspan x="751.5" y="228.6">Connective</tspan><tspan x="751.5" y="252.2">tissue</tspan></text>
<text font-family="Liberation Sans, sans-serif" font-size="18.5" fill="#222" text-anchor="middle" letter-spacing="1"><tspan x="547.6" y="297.0">70%</tspan><tspan x="547.6" y="320.6">Muscle</tspan><tspan x="550.1" y="344.2">fibers</tspan></text>
<text font-family="Liberation Sans, sans-serif" font-size="18.5" fill="#222" text-anchor="middle" letter-spacing="1"><tspan x="683.5" y="423.8">5%</tspan><tspan x="683.5" y="447.4">Adipose</tspan><tspan x="683.5" y="471.0">tissue</tspan></text>
<text font-family="Liberation Sans, sans-serif" font-size="18.5" fill="#222" text-anchor="middle" letter-spacing="1"><tspan x="798" y="423.8">25%</tspan><tspan x="798" y="447.4">Connective</tspan><tspan x="798" y="471.0">tissue</tspan></text>
<path d="M924.0,54.0 L925.6,54.6 L927.3,55.4 L929.1,56.6 L931.0,58.0 L933.0,59.4 L935.0,61.0 L937.3,62.8 L940.1,65.0 L943.1,67.4 L946.0,69.9 L948.7,72.5 L951.0,75.0 L952.9,77.6 L954.8,80.5 L956.6,83.7 L958.3,86.9 L959.7,90.0 L961.0,93.0 L962.1,96.1 L963.1,99.5 L964.0,103.1 L964.8,106.7 L965.5,110.0 L966.0,113.0 L966.4,115.8 L966.7,118.6 L966.9,121.5 L967.0,124.3 L967.0,126.8 L967.0,129.0 L966.9,131.0 L966.8,132.9 L966.6,134.7 L966.3,136.5 L965.9,138.3 L965.5,140.0 L965.0,141.9 L964.3,144.0 L963.4,146.3 L962.6,148.5 L961.8,150.4 L961.0,152.0 L960.2,153.2 L959.3,154.1 L958.3,154.9 L957.4,155.7 L956.6,156.7 L956.0,158.0 L955.6,159.7 L955.4,161.7 L955.2,164.0 L955.1,166.5 L955.0,169.2 L954.8,172.0 L954.5,175.3 L954.1,179.2 L953.7,183.4 L953.3,187.8 L952.9,192.1 L952.5,196.0 L952.1,199.8 L951.7,204.0 L951.2,208.2 L950.8,212.4 L950.4,216.4 L950.0,220.0 L949.6,223.3 L949.2,226.7 L948.8,230.1 L948.4,233.5 L948.1,236.8 L948.0,240.0 L948.1,243.4 L948.3,247.1 L948.6,251.0 L949.0,254.9 L949.4,258.6 L949.6,262.0 L949.8,265.3 L950.0,268.7 L950.1,272.2 L950.3,275.7 L950.4,279.0 L950.4,282.0 L950.4,284.8 L950.4,287.7 L950.3,290.6 L950.1,293.5 L949.9,296.7 L949.6,300.0 L949.1,303.9 L948.5,308.5 L947.7,313.4 L946.9,318.5 L946.1,323.5 L945.4,328.0 L944.7,332.5 L943.8,337.5 L943.0,342.6 L942.2,347.5 L941.6,352.1 L941.2,356.0 L941.1,359.5 L941.1,362.9 L941.2,366.2 L941.6,369.2 L942.0,371.8 L942.6,374.0 L943.4,375.5 L944.6,376.6 L945.9,377.4 L947.3,378.2 L948.7,379.3 L950.0,381.0 L951.3,383.6 L952.8,387.0 L954.4,390.9 L955.9,394.8 L957.3,398.5 L958.4,401.6 L959.2,404.2 L959.8,406.9 L960.3,409.4 L960.8,411.8 L961.4,414.0 L962.0,416.0 L962.8,417.8 L963.9,419.6 L965.0,421.4 L966.1,423.0 L967.2,424.6 L968.0,426.0 L968.8,427.4 L969.5,428.9 L970.3,430.3 L970.9,431.7 L971.4,433.0 L971.6,434.0 L971.5,434.9 L971.2,435.7 L970.7,436.4 L970.1,437.0 L969.5,437.5 L969.0,437.8 L968.6,438.1 L968.2,438.4 L967.8,438.6 L967.3,438.6 L966.6,438.3 L965.6,437.6 L964.0,436.1 L961.9,433.8 L959.5,431.1 L957.1,428.5 L955.0,426.5 L953.6,425.6 L952.9,425.8 L952.5,426.7 L952.4,428.2 L952.4,430.2 L952.5,432.5 L952.4,435.0 L952.2,438.3 L951.9,442.6 L951.7,447.5 L951.4,452.4 L951.2,456.7 L951.0,460.0 L950.9,462.3 L950.7,464.1 L950.6,465.5 L950.5,466.7 L950.3,467.8 L950.0,468.8 L949.5,469.9 L948.9,470.9 L948.1,471.9 L947.4,472.7 L946.6,473.4 L946.0,474.0 L945.5,474.4 L944.9,474.7 L944.4,474.9 L943.9,474.9 L943.3,474.9 L942.8,474.8 L942.2,474.9 L941.5,475.4 L940.8,475.7 L940.1,475.5 L939.5,474.4 L939.0,472.0 L938.7,467.2 L938.5,460.1 L938.4,451.8 L938.2,443.5 L938.1,436.4 L938.0,431.6 L937.8,429.2 L937.7,428.1 L937.5,427.9 L937.3,428.3 L937.1,428.9 L936.8,429.2 L936.5,429.1 L936.2,428.7 L935.9,428.6 L935.5,428.9 L935.0,430.2 L934.4,432.8 L933.6,437.7 L932.6,444.8 L931.5,453.2 L930.3,461.5 L929.2,468.7 L928.4,473.6 L927.7,476.2 L927.1,477.6 L926.5,478.1 L926.0,478.0 L925.5,477.9 L925.0,478.0 L924.6,478.3 L924.1,478.6 L923.7,478.7 L923.3,478.7 L922.8,478.6 L922.4,478.4 L921.8,478.4 L921.1,478.6 L920.4,478.7 L919.7,478.2 L919.2,476.8 L919.0,474.0 L919.2,468.7 L919.8,461.0 L920.6,452.0 L921.4,443.1 L922.0,435.5 L922.4,430.4 L922.5,428.0 L922.3,427.1 L922.1,427.2 L921.7,427.9 L921.4,428.8 L921.2,429.2 L921.0,429.1 L920.8,428.7 L920.7,428.4 L920.5,428.5 L920.3,429.5 L920.0,431.6 L919.7,435.7 L919.4,441.8 L919.0,448.9 L918.6,456.0 L918.1,462.1 L917.6,466.4 L917.0,468.8 L916.2,470.3 L915.3,471.0 L914.4,471.3 L913.5,471.3 L912.8,471.2 L912.1,471.3 L911.5,471.5 L910.8,471.4 L910.2,470.7 L909.6,469.1 L909.2,466.4 L908.9,461.4 L908.7,454.2 L908.5,445.8 L908.4,437.5 L908.2,430.3 L908.0,425.6 L907.7,423.1 L907.4,421.8 L907.0,421.4 L906.6,421.9 L906.1,422.9 L905.6,424.4 L905.0,426.9 L904.2,430.8 L903.3,435.4 L902.4,440.1 L901.6,444.2 L900.8,447.2 L900.0,449.1 L899.2,450.7 L898.3,451.8 L897.5,452.6 L896.7,453.1 L896.0,453.2 L895.3,453.1 L894.6,452.8 L893.9,452.1 L893.3,451.0 L892.7,449.4 L892.4,447.2 L892.3,443.9 L892.3,439.4 L892.5,434.2 L892.7,428.8 L892.9,423.9 L893.0,420.0 L893.1,416.9 L893.1,413.9 L893.2,411.1 L893.3,408.5 L893.4,406.2 L893.6,404.0 L893.9,402.0 L894.2,400.1 L894.6,398.2 L895.0,396.4 L895.6,394.5 L896.4,392.4 L897.5,390.1 L899.1,387.4 L900.8,384.4 L902.5,381.4 L903.9,378.4 L904.8,375.6 L905.1,372.7 L905.2,369.7 L905.0,366.4 L904.6,363.0 L904.0,359.6 L903.4,356.0 L902.6,352.0 L901.5,347.4 L900.2,342.5 L898.9,337.4 L897.6,332.5 L896.4,328.0 L895.3,323.5 L894.0,318.5 L892.8,313.4 L891.5,308.5 L890.4,303.9 L889.4,300.0 L888.5,296.9 L887.6,294.3 L886.8,291.8 L886.0,289.1 L885.4,286.0 L885.0,282.0 L884.8,276.6 L884.8,269.8 L884.9,262.2 L885.1,254.4 L885.3,246.8 L885.6,240.0 L886.0,233.3 L886.6,226.0 L887.3,218.5 L887.9,211.3 L888.5,205.0 L888.8,200.0 L888.9,196.4 L888.9,193.6 L888.8,191.3 L888.6,189.3 L888.3,187.3 L888.0,185.0 L887.6,182.2 L886.9,179.1 L886.2,175.8 L885.5,172.5 L884.9,169.1 L884.4,166.0 L884.1,162.8 L883.8,159.3 L883.5,155.6 L883.3,151.8 L883.1,148.3 L883.0,145.0 L882.9,141.8 L882.9,138.4 L882.9,134.9 L882.9,131.5 L882.9,128.1 L883.0,125.0 L883.1,121.9 L883.1,118.5 L883.2,115.1 L883.4,111.7 L883.6,108.3 L884.0,105.0 L884.5,101.6 L885.2,97.8 L886.0,93.8 L886.9,89.8 L887.9,86.2 L889.0,83.0 L890.3,80.1 L891.7,77.2 L893.4,74.4 L895.2,71.7 L897.1,69.2 L899.0,67.0 L901.3,64.9 L904.0,62.8 L907.1,60.7 L910.1,58.8 L912.8,57.2 L915.0,56.0 L916.8,55.1 L918.3,54.4 L919.8,54.0 L921.2,53.8 L922.6,53.8Z" fill="#f5c7bc"/>
<g clip-path="url(#armclip)"><path d="M896.2,448.8 L896.2,448.8 L896.9,447.7 L897.5,446.1 L898.2,443.4 L899.0,439.4 L899.9,434.7 L900.8,430.1 L900.8,430.1 L901.5,426.2 L901.6,426.1 L902.2,423.5 L902.3,423.2 L902.8,421.8 L902.9,421.5 L903.4,420.5 L903.6,420.1 L903.8,419.8 L904.0,419.5 L904.4,419.0 L904.7,418.8 L905.0,418.6 L905.2,418.4 L905.6,418.2 L905.9,418.1 L906.2,418.0 L906.5,418.0 L906.9,417.9 L907.2,417.9 L907.6,418.0 L907.9,418.0 L908.2,418.1 L908.5,418.3 L908.8,418.4 L909.1,418.6 L909.4,418.9 L909.8,419.2 L910.0,419.4 L910.2,419.7 L910.4,420.0 L910.5,420.3 L910.7,420.6 L910.8,420.9 L911.1,422.3 L911.2,422.7 L911.5,425.2 L911.5,425.4 L911.7,430.2 L911.7,430.3 L911.9,437.4 L911.9,437.4 L912.0,445.7 L912.2,454.1 L912.4,461.3 L912.7,466.0 L912.9,467.7 L913.1,467.7 L913.6,467.7 L913.7,467.5 L914.2,465.7 L914.6,461.8 L915.1,455.7 L915.5,448.7 L915.9,441.6 L915.9,441.6 L916.2,435.5 L916.2,435.5 L916.5,431.4 L916.5,431.2 L916.8,429.1 L916.8,428.7 L917.1,427.8 L917.1,427.4 L917.3,427.1 L917.4,426.8 L917.6,426.6 L917.8,426.3 L918.0,426.1 L918.2,425.8 L918.4,425.7 L918.7,425.5 L919.0,425.3 L919.2,425.2 L919.2,425.2 L919.4,424.9 L919.7,424.6 L920.0,424.4 L920.3,424.2 L920.5,424.0 L920.9,423.9 L921.2,423.8 L921.5,423.7 L921.8,423.6 L922.2,423.6 L922.5,423.6 L922.9,423.6 L923.2,423.7 L923.5,423.8 L923.8,423.9 L924.1,424.1 L924.4,424.3 L924.7,424.5 L924.9,424.7 L925.1,425.0 L925.3,425.3 L925.5,425.6 L925.6,425.9 L925.7,426.2 L925.8,426.5 L925.9,427.4 L925.9,427.7 L925.9,428.0 L925.9,430.5 L925.9,430.7 L925.5,435.7 L925.5,435.8 L924.9,443.4 L924.9,443.4 L924.1,452.3 L923.3,461.3 L922.7,468.9 L922.5,474.0 L922.6,474.9 L922.6,474.9 L923.0,474.9 L923.2,475.0 L923.2,475.0 L923.6,474.8 L923.9,474.7 L924.2,474.6 L924.5,474.5 L925.0,472.9 L925.8,468.1 L926.8,461.0 L928.0,452.7 L929.1,444.4 L929.1,444.3 L930.2,437.2 L930.2,437.1 L930.9,432.2 L931.0,432.0 L931.6,429.5 L931.7,429.0 L932.2,427.7 L932.3,427.4 L932.5,427.1 L932.7,426.9 L932.9,426.6 L933.1,426.4 L933.5,426.0 L933.8,425.8 L934.0,425.6 L934.3,425.4 L934.7,425.3 L935.0,425.2 L935.3,425.1 L935.4,425.1 L935.5,425.0 L935.8,424.8 L936.1,424.7 L936.5,424.6 L936.8,424.5 L937.2,424.4 L937.5,424.4 L937.9,424.4 L938.2,424.5 L938.6,424.6 L938.9,424.7 L939.2,424.9 L939.5,425.1 L939.8,425.3 L940.0,425.4 L940.2,425.7 L940.4,426.0 L940.6,426.2 L940.8,426.5 L940.9,426.9 L941.0,427.2 L941.1,427.5 L941.3,428.6 L941.3,428.9 L941.5,431.4 L941.5,431.5 L941.6,436.3 L941.6,436.3 L941.7,443.4 L941.7,443.4 L941.9,451.7 L942.0,460.0 L942.2,467.0 L942.5,471.3 L942.8,471.3 L943.1,471.3 L943.5,471.4 L943.6,471.4 L943.8,471.3 L944.2,470.9 L944.8,470.3 L945.4,469.6 L946.0,468.9 L946.4,468.2 L946.7,467.6 L946.9,466.9 L947.0,466.2 L947.2,465.2 L947.3,463.8 L947.4,462.1 L947.4,462.0 L947.5,459.8 L947.7,456.5 L947.9,452.2 L948.2,447.4 L948.4,442.5 L948.4,442.5 L948.7,438.1 L948.7,438.1 L948.9,434.8 L949.0,432.5 L948.9,430.3 L948.9,428.3 L948.9,428.0 L949.0,426.5 L949.0,426.1 L949.1,425.8 L949.2,425.5 L949.6,424.5 L949.7,424.2 L949.9,424.0 L950.1,423.7 L950.3,423.4 L950.5,423.2 L950.8,423.0 L951.0,422.8 L951.3,422.7 L951.6,422.5 L951.9,422.4 L952.7,422.2 L953.0,422.1 L953.4,422.1 L953.8,422.1 L954.1,422.1 L954.5,422.2 L954.8,422.3 L955.2,422.5 L955.5,422.6 L956.9,423.5 L957.2,423.7 L957.4,424.0 L959.5,426.0 L959.6,426.1 L962.0,428.7 L962.1,428.7 L964.5,431.4 L966.6,433.7 L967.5,434.6 L967.7,434.4 L968.0,434.1 L968.0,434.1 L968.0,434.0 L967.7,433.1 L967.1,431.9 L966.4,430.5 L965.7,429.1 L965.0,427.7 L964.2,426.4 L963.2,425.0 L962.1,423.3 L962.1,423.3 L960.9,421.5 L960.8,421.4 L959.8,419.6 L959.7,419.3 L958.8,417.5 L958.7,417.1 L958.0,415.1 L958.0,414.8 L957.4,412.6 L957.4,412.5 L956.9,410.1 L956.4,407.6 L955.8,405.1 L955.1,402.7 L954.0,399.7 L952.7,396.1 L951.2,392.2 L949.6,388.4 L948.2,385.1 L947.0,382.9 L946.2,381.8 L945.3,381.1 L944.1,380.4 L944.1,380.4 L942.8,379.6 L942.5,379.4 L942.2,379.2 L941.1,378.1 L940.8,377.9 L940.6,377.5 L940.4,377.2 L939.5,375.7 L939.4,375.3 L939.2,374.9 L938.6,372.8 L938.6,372.4 L938.1,369.8 L938.1,369.6 L937.8,366.5 L937.8,366.4 L937.6,363.1 L937.6,362.9 L937.6,359.5 L937.6,359.3 L937.7,355.9 L937.7,355.7 L938.1,351.8 L938.1,351.6 L938.7,347.1 L938.7,347.0 L939.5,342.0 L939.5,342.0 L940.4,336.9 L941.2,331.9 L941.9,327.5 L942.6,323.0 L942.6,322.9 L943.4,318.0 L944.2,312.9 L945.0,307.9 L945.6,303.4 L946.1,299.6 L946.4,296.4 L946.6,293.3 L946.8,290.4 L946.9,287.6 L946.9,284.8 L946.9,282.0 L946.9,279.0 L946.8,275.8 L946.6,272.4 L946.5,268.9 L946.3,265.5 L946.1,262.2 L945.9,258.9 L945.5,255.2 L945.2,251.3 L945.2,251.3 L944.8,247.4 L944.8,247.3 L944.6,243.6 L944.6,243.5 L944.5,240.1 L944.5,239.9 L944.6,236.7 L944.6,236.5 L944.9,233.2 L944.9,233.1 L945.3,229.7 L945.3,229.7 L945.7,226.3 L946.1,222.9 L946.5,219.6 L946.9,216.1 L946.9,216.1 L947.3,212.1 L947.8,207.9 L948.2,203.6 L948.6,199.5 L949.0,195.7 L949.4,191.8 L949.8,187.5 L950.2,183.1 L950.6,178.8 L951.0,174.9 L951.3,171.7 L951.5,169.0 L951.6,166.3 L951.8,163.8 L951.8,163.8 L951.9,161.5 L951.9,161.3 L952.1,159.3 L952.2,158.9 L952.6,157.2 L952.7,156.9 L952.8,156.5 L953.4,155.2 L953.5,155.0 L953.7,154.7 L953.9,154.5 L954.7,153.5 L954.9,153.3 L955.1,153.1 L956.0,152.3 L956.1,152.2 L956.9,151.5 L957.5,150.9 L958.0,150.2 L958.6,149.0 L959.4,147.1 L960.2,145.1 L960.9,142.9 L961.6,140.9 L962.1,139.1 L962.5,137.5 L962.8,135.9 L963.1,134.2 L963.3,132.5 L963.4,130.8 L963.5,128.9 L963.5,126.8 L963.5,124.3 L963.4,121.7 L963.2,118.9 L962.9,116.2 L962.5,113.6 L962.0,110.7 L961.4,107.4 L960.6,103.9 L959.7,100.4 L958.8,97.2 L957.7,94.3 L956.5,91.4 L955.1,88.4 L953.5,85.3 L951.8,82.4 L950.1,79.6 L948.3,77.2 L946.2,75.0 L943.7,72.5 L940.8,70.1 L937.9,67.7 L935.2,65.6 L932.9,63.8 L930.9,62.2 L928.9,60.8 L927.2,59.5 L925.5,58.5 L924.2,57.8 L923.1,57.4 L922.3,57.3 L921.5,57.3 L920.6,57.4 L919.6,57.7 L918.2,58.3 L916.6,59.1 L914.5,60.3 L911.9,61.8 L909.0,63.6 L906.1,65.6 L903.5,67.6 L901.5,69.5 L899.8,71.4 L898.0,73.7 L896.4,76.2 L894.8,78.9 L893.4,81.6 L892.3,84.3 L891.3,87.2 L890.3,90.7 L889.4,94.5 L888.6,98.4 L888.0,102.1 L887.5,105.5 L887.1,108.6 L886.9,111.9 L886.7,115.2 L886.6,118.6 L886.6,121.9 L886.6,121.9 L886.5,125.1 L886.4,128.2 L886.4,131.5 L886.4,135.0 L886.4,138.4 L886.4,141.7 L886.5,144.9 L886.6,148.1 L886.8,151.7 L887.0,155.3 L887.2,159.0 L887.5,162.5 L887.9,165.5 L888.3,168.5 L889.0,171.8 L889.7,175.1 L890.4,178.4 L890.4,178.5 L891.0,181.6 L891.0,181.7 L891.5,184.4 L891.5,184.5 L891.8,186.8 L891.8,186.8 L892.1,188.9 L892.1,189.0 L892.3,191.0 L892.3,191.1 L892.4,193.4 L892.4,193.6 L892.4,196.4 L892.4,196.5 L892.3,200.1 L892.3,200.2 L892.0,205.2 L892.0,205.3 L891.4,211.6 L891.4,211.6 L890.8,218.8 L890.1,226.3 L889.5,233.6 L889.1,240.2 L888.8,246.9 L888.6,254.5 L888.4,262.3 L888.3,269.9 L888.3,276.5 L888.5,281.8 L888.9,285.5 L889.4,288.3 L890.1,290.7 L890.9,293.1 L890.9,293.1 L891.8,295.8 L891.9,295.9 L892.8,299.0 L892.8,299.2 L893.8,303.0 L894.9,307.6 L896.1,312.6 L897.4,317.7 L898.7,322.6 L899.8,327.1 L900.9,331.6 L902.3,336.5 L903.6,341.6 L903.6,341.6 L904.9,346.6 L904.9,346.6 L906.0,351.2 L906.0,351.3 L906.8,355.3 L906.8,355.4 L907.5,359.0 L907.5,359.0 L908.0,362.5 L908.0,362.6 L908.4,366.0 L908.5,366.2 L908.7,369.4 L908.7,369.7 L908.6,372.8 L908.6,373.2 L908.3,376.0 L908.2,376.3 L908.1,376.6 L907.3,379.5 L907.1,379.9 L905.7,382.9 L905.6,383.1 L903.9,386.2 L903.8,386.2 L902.1,389.1 L900.6,391.7 L899.6,393.8 L899.0,395.6 L898.4,397.3 L898.0,399.0 L897.6,400.7 L897.3,402.5 L897.1,404.4 L896.9,406.4 L896.8,408.7 L896.7,411.2 L896.6,414.0 L896.6,416.9 L896.6,416.9 L896.5,420.1 L896.5,420.1 L896.4,424.0 L896.4,424.1 L896.2,429.0 L896.0,434.3 L895.8,439.4 L895.8,443.9 L895.9,446.9 L896.2,448.6Z" fill="#fbded6" filter="url(#blur2)"/></g>
<g clip-path="url(#armclip)"><ellipse cx="902" cy="118" rx="13" ry="42" fill="#fdf0ec" opacity="0.75" filter="url(#blur2)"/><ellipse cx="925" cy="72" rx="22" ry="14" fill="#fdf0ec" opacity="0.6" filter="url(#blur2)"/></g>
<path d="M924.0,54.0 L925.6,54.6 L927.3,55.4 L929.1,56.6 L931.0,58.0 L933.0,59.4 L935.0,61.0 L937.3,62.8 L940.1,65.0 L943.1,67.4 L946.0,69.9 L948.7,72.5 L951.0,75.0 L952.9,77.6 L954.8,80.5 L956.6,83.7 L958.3,86.9 L959.7,90.0 L961.0,93.0 L962.1,96.1 L963.1,99.5 L964.0,103.1 L964.8,106.7 L965.5,110.0 L966.0,113.0 L966.4,115.8 L966.7,118.6 L966.9,121.5 L967.0,124.3 L967.0,126.8 L967.0,129.0 L966.9,131.0 L966.8,132.9 L966.6,134.7 L966.3,136.5 L965.9,138.3 L965.5,140.0 L965.0,141.9 L964.3,144.0 L963.4,146.3 L962.6,148.5 L961.8,150.4 L961.0,152.0 L960.2,153.2 L959.3,154.1 L958.3,154.9 L957.4,155.7 L956.6,156.7 L956.0,158.0 L955.6,159.7 L955.4,161.7 L955.2,164.0 L955.1,166.5 L955.0,169.2 L954.8,172.0 L954.5,175.3 L954.1,179.2 L953.7,183.4 L953.3,187.8 L952.9,192.1 L952.5,196.0 L952.1,199.8 L951.7,204.0 L951.2,208.2 L950.8,212.4 L950.4,216.4 L950.0,220.0 L949.6,223.3 L949.2,226.7 L948.8,230.1 L948.4,233.5 L948.1,236.8 L948.0,240.0 L948.1,243.4 L948.3,247.1 L948.6,251.0 L949.0,254.9 L949.4,258.6 L949.6,262.0 L949.8,265.3 L950.0,268.7 L950.1,272.2 L950.3,275.7 L950.4,279.0 L950.4,282.0 L950.4,284.8 L950.4,287.7 L950.3,290.6 L950.1,293.5 L949.9,296.7 L949.6,300.0 L949.1,303.9 L948.5,308.5 L947.7,313.4 L946.9,318.5 L946.1,323.5 L945.4,328.0 L944.7,332.5 L943.8,337.5 L943.0,342.6 L942.2,347.5 L941.6,352.1 L941.2,356.0 L941.1,359.5 L941.1,362.9 L941.2,366.2 L941.6,369.2 L942.0,371.8 L942.6,374.0 L943.4,375.5 L944.6,376.6 L945.9,377.4 L947.3,378.2 L948.7,379.3 L950.0,381.0 L951.3,383.6 L952.8,387.0 L954.4,390.9 L955.9,394.8 L957.3,398.5 L958.4,401.6 L959.2,404.2 L959.8,406.9 L960.3,409.4 L960.8,411.8 L961.4,414.0 L962.0,416.0 L962.8,417.8 L963.9,419.6 L965.0,421.4 L966.1,423.0 L967.2,424.6 L968.0,426.0 L968.8,427.4 L969.5,428.9 L970.3,430.3 L970.9,431.7 L971.4,433.0 L971.6,434.0 L971.5,434.9 L971.2,435.7 L970.7,436.4 L970.1,437.0 L969.5,437.5 L969.0,437.8 L968.6,438.1 L968.2,438.4 L967.8,438.6 L967.3,438.6 L966.6,438.3 L965.6,437.6 L964.0,436.1 L961.9,433.8 L959.5,431.1 L957.1,428.5 L955.0,426.5 L953.6,425.6 L952.9,425.8 L952.5,426.7 L952.4,428.2 L952.4,430.2 L952.5,432.5 L952.4,435.0 L952.2,438.3 L951.9,442.6 L951.7,447.5 L951.4,452.4 L951.2,456.7 L951.0,460.0 L950.9,462.3 L950.7,464.1 L950.6,465.5 L950.5,466.7 L950.3,467.8 L950.0,468.8 L949.5,469.9 L948.9,470.9 L948.1,471.9 L947.4,472.7 L946.6,473.4 L946.0,474.0 L945.5,474.4 L944.9,474.7 L944.4,474.9 L943.9,474.9 L943.3,474.9 L942.8,474.8 L942.2,474.9 L941.5,475.4 L940.8,475.7 L940.1,475.5 L939.5,474.4 L939.0,472.0 L938.7,467.2 L938.5,460.1 L938.4,451.8 L938.2,443.5 L938.1,436.4 L938.0,431.6 L937.8,429.2 L937.7,428.1 L937.5,427.9 L937.3,428.3 L937.1,428.9 L936.8,429.2 L936.5,429.1 L936.2,428.7 L935.9,428.6 L935.5,428.9 L935.0,430.2 L934.4,432.8 L933.6,437.7 L932.6,444.8 L931.5,453.2 L930.3,461.5 L929.2,468.7 L928.4,473.6 L927.7,476.2 L927.1,477.6 L926.5,478.1 L926.0,478.0 L925.5,477.9 L925.0,478.0 L924.6,478.3 L924.1,478.6 L923.7,478.7 L923.3,478.7 L922.8,478.6 L922.4,478.4 L921.8,478.4 L921.1,478.6 L920.4,478.7 L919.7,478.2 L919.2,476.8 L919.0,474.0 L919.2,468.7 L919.8,461.0 L920.6,452.0 L921.4,443.1 L922.0,435.5 L922.4,430.4 L922.5,428.0 L922.3,427.1 L922.1,427.2 L921.7,427.9 L921.4,428.8 L921.2,429.2 L921.0,429.1 L920.8,428.7 L920.7,428.4 L920.5,428.5 L920.3,429.5 L920.0,431.6 L919.7,435.7 L919.4,441.8 L919.0,448.9 L918.6,456.0 L918.1,462.1 L917.6,466.4 L917.0,468.8 L916.2,470.3 L915.3,471.0 L914.4,471.3 L913.5,471.3 L912.8,471.2 L912.1,471.3 L911.5,471.5 L910.8,471.4 L910.2,470.7 L909.6,469.1 L909.2,466.4 L908.9,461.4 L908.7,454.2 L908.5,445.8 L908.4,437.5 L908.2,430.3 L908.0,425.6 L907.7,423.1 L907.4,421.8 L907.0,421.4 L906.6,421.9 L906.1,422.9 L905.6,424.4 L905.0,426.9 L904.2,430.8 L903.3,435.4 L902.4,440.1 L901.6,444.2 L900.8,447.2 L900.0,449.1 L899.2,450.7 L898.3,451.8 L897.5,452.6 L896.7,453.1 L896.0,453.2 L895.3,453.1 L894.6,452.8 L893.9,452.1 L893.3,451.0 L892.7,449.4 L892.4,447.2 L892.3,443.9 L892.3,439.4 L892.5,434.2 L892.7,428.8 L892.9,423.9 L893.0,420.0 L893.1,416.9 L893.1,413.9 L893.2,411.1 L893.3,408.5 L893.4,406.2 L893.6,404.0 L893.9,402.0 L894.2,400.1 L894.6,398.2 L895.0,396.4 L895.6,394.5 L896.4,392.4 L897.5,390.1 L899.1,387.4 L900.8,384.4 L902.5,381.4 L903.9,378.4 L904.8,375.6 L905.1,372.7 L905.2,369.7 L905.0,366.4 L904.6,363.0 L904.0,359.6 L903.4,356.0 L902.6,352.0 L901.5,347.4 L900.2,342.5 L898.9,337.4 L897.6,332.5 L896.4,328.0 L895.3,323.5 L894.0,318.5 L892.8,313.4 L891.5,308.5 L890.4,303.9 L889.4,300.0 L888.5,296.9 L887.6,294.3 L886.8,291.8 L886.0,289.1 L885.4,286.0 L885.0,282.0 L884.8,276.6 L884.8,269.8 L884.9,262.2 L885.1,254.4 L885.3,246.8 L885.6,240.0 L886.0,233.3 L886.6,226.0 L887.3,218.5 L887.9,211.3 L888.5,205.0 L888.8,200.0 L888.9,196.4 L888.9,193.6 L888.8,191.3 L888.6,189.3 L888.3,187.3 L888.0,185.0 L887.6,182.2 L886.9,179.1 L886.2,175.8 L885.5,172.5 L884.9,169.1 L884.4,166.0" fill="none" stroke="#8c8c8c" stroke-width="0.9" stroke-linejoin="round"/>
<g fill="#f6cf94" stroke="#cfb07f" stroke-width="0.5"><path d="M913.5,68 C914,63 918,62 922,62.5 C926,63 929,65 929,67 L928.5,69 C926,71 923,73.5 920,74 C916,74 913,71 913.5,68Z"/><path d="M917.5,78 C918,74 922,70 927,69.5 C932,69 938,71 942,74 C944,77 943,81 940,82.5 C935,84 927,84 922,84 C919,84 917,81 917.5,78Z"/><path d="M918.5,100 C918,90 925,85 934,85 C942,85 948,90 950,97 C951,103 950.5,110 950,118 L947,145 L921,145 C921,125 919,110 918.5,100Z"/><path d="M912,212 C910,220 902,226 899,232 C897,237 900,241 904,242 L932,247 C937,244 938,238 935,232 C932,229 929,226 927,222 L926,212Z"/></g>
<g fill="url(#bonefade)"><path d="M903.5,249 L913,249 C913,270 916,320 917,348 L909,348 C907,320 904,280 903.5,249Z"/><path d="M913.5,249 L926.5,249 C926,270 932,320 934,350 L927,350 C923,320 916,280 913.5,249Z"/></g>
<path d="M907,80 C911,74 917,75 921,80 C921,88 918,96 917,104 C912,104 908,100 907,95Z" fill="#f7dcb0" opacity="0.85"/>
<path d="M916.5,103 C914.5,95 918,88 925,85 C932,82.5 940,83 946,86" fill="none" stroke="#b4b8bf" stroke-width="4.4" stroke-linecap="round"/>
<path d="M916.5,103 C914.5,95 918,88 925,85 C932,82.5 940,83 946,86" fill="none" stroke="#eef0f3" stroke-width="3.2" stroke-linecap="round"/>
<path d="M919.5,103 C918,95 921,89 928,87 C935,85 942,86 948,90 C950,97 948,106 946,112 L921,112Z" fill="#f6cf94"/>
<path d="M924,98 C927,96 931,96 932,99 L935,128 L936,112 C937,104 942,102 945,104 C946,120 948.5,150 948,172 C947,195 938,215 928,227 L922,230 C916,224 912,212 911,195 C910,180 912,160 918,140 C921,124 922,110 924,98Z" fill="url(#mstripe)"/>
<path d="M924,98 C927,96 931,96 932,99 L935,128 L936,112 C937,104 942,102 945,104 C946,120 948.5,150 948,172 C947,195 938,215 928,227 L922,230 C916,224 912,212 911,195 C910,180 912,160 918,140 C921,124 922,110 924,98Z" fill="none" stroke="#d98770" stroke-width="1"/>
<path d="M935,128 L935.5,158" stroke="#f4cfc4" stroke-width="1"/>
<path d="M925,97 C928,95 931,96 932,99 L932.5,108 L924,110Z" fill="#e9edf2"/>
<path d="M939,104 C942,101 946,102 947,104 L947.5,124 L940,132 L938,118Z" fill="#e9edf2"/>
<path d="M917,227 L926,227 L927,235 C931,236 933,240 932,245 C930,249 922,250 915,249 L912,250.5 C906,251 900,250 900,247.5 C901,246 905,246 906,245 C905,240 909,236 916,235Z" fill="#e6eaf0" stroke="#c9cdd3" stroke-width="0.4"/>
<path d="M939,408.8 C944,412 948,416 951.2,426" fill="none" stroke="#8c8c8c" stroke-width="0.8"/>
<path d="M925,375 C936,380 941,392 939,408" fill="none" stroke="#f0c0b4" stroke-width="3" filter="url(#blur2)"/>
<path d="M867.4,104 L851.1,120 L881.8,151.2 L873,160 L917,168.8 L906.6,125.6 L898.6,134.4Z" fill="#e01f26"/></svg>
</body></html>
